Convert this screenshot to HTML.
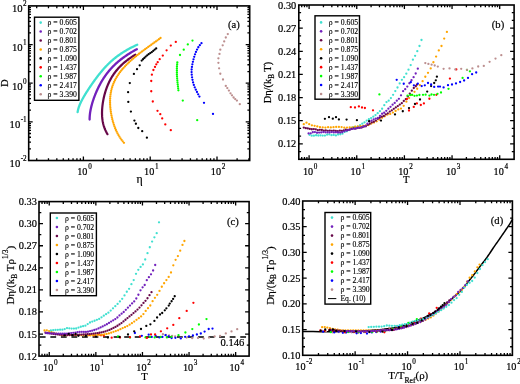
<!DOCTYPE html>
<html><head><meta charset="utf-8"><style>
html,body{margin:0;padding:0;background:#fff;}
svg{display:block;font-family:'Liberation Serif','Times New Roman',serif;}
text{stroke:#000;stroke-width:0.2px;}
</style></head><body>
<svg width="520" height="384" viewBox="0 0 520 384">
<rect width="520" height="384" fill="#fff"/>
<path d="M77.62 112.10 L77.76 111.25 L77.93 110.39 L78.13 109.54 L78.36 108.69 L78.61 107.83 L78.90 106.98 L79.20 106.13 L79.53 105.27 L79.88 104.42 L80.25 103.57 L80.64 102.72 L81.05 101.86 L81.47 101.01 L81.90 100.16 L82.35 99.30 L82.82 98.45 L83.29 97.60 L83.78 96.74 L84.28 95.89 L84.79 95.04 L85.30 94.18 L85.83 93.33 L86.36 92.48 L86.90 91.62 L87.45 90.77 L88.00 89.92 L88.56 89.06 L89.12 88.21 L89.69 87.36 L90.27 86.51 L90.85 85.65 L91.44 84.80 L92.03 83.95 L92.63 83.09 L93.23 82.24 L93.84 81.39 L94.45 80.53 L95.07 79.68 L95.70 78.83 L96.33 77.97 L96.97 77.12 L97.62 76.27 L98.28 75.41 L98.95 74.56 L99.62 73.71 L100.31 72.85 L101.01 72.00 L101.72 71.15 L102.44 70.29 L103.18 69.44 L103.93 68.59 L104.70 67.74 L105.49 66.88 L106.29 66.03 L107.12 65.18 L107.96 64.32 L108.83 63.47 L109.73 62.62 L110.65 61.76 L111.59 60.91 L112.57 60.06 L113.57 59.20 L114.61 58.35 L115.68 57.50 L116.79 56.64 L117.93 55.79 L119.12 54.94 L120.34 54.08 L121.62 53.23 L122.93 52.38 L124.30 51.53 L125.71 50.67 L127.18 49.82 L128.70 48.97 L130.28 48.11 L131.92 47.26 L133.63 46.41 L135.39 45.55 L137.23 44.70" stroke="#40e0d0" stroke-width="2.3" fill="none" stroke-linecap="round" stroke-linejoin="round" />
<path d="M89.62 119.60 L89.62 118.71 L89.64 117.82 L89.68 116.93 L89.74 116.04 L89.82 115.14 L89.91 114.25 L90.02 113.36 L90.14 112.47 L90.28 111.58 L90.44 110.69 L90.60 109.80 L90.79 108.91 L90.98 108.02 L91.19 107.12 L91.40 106.23 L91.63 105.34 L91.88 104.45 L92.13 103.56 L92.39 102.67 L92.66 101.78 L92.95 100.89 L93.24 99.99 L93.54 99.10 L93.86 98.21 L94.18 97.32 L94.51 96.43 L94.85 95.54 L95.20 94.65 L95.56 93.76 L95.93 92.87 L96.31 91.97 L96.70 91.08 L97.10 90.19 L97.51 89.30 L97.93 88.41 L98.37 87.52 L98.81 86.63 L99.26 85.74 L99.73 84.85 L100.21 83.95 L100.70 83.06 L101.20 82.17 L101.72 81.28 L102.26 80.39 L102.81 79.50 L103.37 78.61 L103.95 77.72 L104.55 76.83 L105.16 75.93 L105.79 75.04 L106.45 74.15 L107.12 73.26 L107.81 72.37 L108.53 71.48 L109.27 70.59 L110.03 69.70 L110.82 68.81 L111.63 67.91 L112.47 67.02 L113.34 66.13 L114.23 65.24 L115.16 64.35 L116.12 63.46 L117.11 62.57 L118.13 61.68 L119.19 60.78 L120.29 59.89 L121.43 59.00 L122.60 58.11 L123.82 57.22 L125.07 56.33 L126.38 55.44 L127.72 54.55 L129.12 53.66 L130.56 52.76 L132.05 51.87 L133.60 50.98 L135.19 50.09 L136.85 49.20" stroke="#7221bc" stroke-width="2.3" fill="none" stroke-linecap="round" stroke-linejoin="round" />
<path d="M107.50 134.20 L106.71 132.85 L106.00 131.50 L105.36 130.15 L104.79 128.80 L104.29 127.45 L103.84 126.11 L103.46 124.76 L103.12 123.41 L102.84 122.06 L102.60 120.71 L102.40 119.36 L102.25 118.01 L102.14 116.66 L102.07 115.31 L102.03 113.96 L102.02 112.61 L102.05 111.26 L102.10 109.92 L102.19 108.57 L102.30 107.22 L102.44 105.87 L102.60 104.52 L102.79 103.17 L103.00 101.82 L103.24 100.47 L103.50 99.12 L103.78 97.77 L104.09 96.42 L104.43 95.07 L104.79 93.73 L105.17 92.38 L105.59 91.03 L106.03 89.68 L106.50 88.33 L107.00 86.98 L107.54 85.63 L108.11 84.28 L108.71 82.93 L109.36 81.58 L110.04 80.23 L110.77 78.88 L111.55 77.54 L112.38 76.19 L113.25 74.84 L114.19 73.49 L115.18 72.14 L116.24 70.79 L117.36 69.44 L118.56 68.09 L119.83 66.74 L121.17 65.39 L122.61 64.04 L124.13 62.69 L125.74 61.35 L127.46 60.00 L129.27 58.65 L131.20 57.30 L133.24 55.95 L135.40 54.60" stroke="#670748" stroke-width="2.2" fill="none" stroke-linecap="round" stroke-linejoin="round" />
<circle cx="123.96" cy="142.80" r="1.15" fill="#ffa500"/>
<circle cx="122.73" cy="141.35" r="1.15" fill="#ffa500"/>
<circle cx="121.56" cy="139.85" r="1.15" fill="#ffa500"/>
<circle cx="120.45" cy="138.31" r="1.15" fill="#ffa500"/>
<circle cx="119.41" cy="136.72" r="1.15" fill="#ffa500"/>
<circle cx="118.44" cy="135.09" r="1.15" fill="#ffa500"/>
<circle cx="117.52" cy="133.42" r="1.15" fill="#ffa500"/>
<circle cx="116.67" cy="131.72" r="1.15" fill="#ffa500"/>
<circle cx="115.88" cy="129.99" r="1.15" fill="#ffa500"/>
<circle cx="115.15" cy="128.24" r="1.15" fill="#ffa500"/>
<circle cx="114.48" cy="126.46" r="1.15" fill="#ffa500"/>
<circle cx="113.86" cy="124.67" r="1.15" fill="#ffa500"/>
<circle cx="113.29" cy="122.86" r="1.15" fill="#ffa500"/>
<circle cx="112.77" cy="121.03" r="1.15" fill="#ffa500"/>
<circle cx="112.29" cy="119.19" r="1.15" fill="#ffa500"/>
<circle cx="111.86" cy="117.34" r="1.15" fill="#ffa500"/>
<circle cx="111.47" cy="115.48" r="1.15" fill="#ffa500"/>
<circle cx="111.13" cy="113.61" r="1.15" fill="#ffa500"/>
<circle cx="110.83" cy="111.74" r="1.15" fill="#ffa500"/>
<circle cx="110.57" cy="109.85" r="1.15" fill="#ffa500"/>
<circle cx="110.37" cy="107.96" r="1.15" fill="#ffa500"/>
<circle cx="110.21" cy="106.07" r="1.15" fill="#ffa500"/>
<circle cx="110.11" cy="104.17" r="1.15" fill="#ffa500"/>
<circle cx="110.07" cy="102.27" r="1.15" fill="#ffa500"/>
<circle cx="110.08" cy="100.37" r="1.15" fill="#ffa500"/>
<circle cx="110.15" cy="98.48" r="1.15" fill="#ffa500"/>
<circle cx="110.30" cy="96.58" r="1.15" fill="#ffa500"/>
<circle cx="110.51" cy="94.69" r="1.15" fill="#ffa500"/>
<circle cx="110.80" cy="92.81" r="1.15" fill="#ffa500"/>
<circle cx="111.16" cy="90.95" r="1.15" fill="#ffa500"/>
<circle cx="111.60" cy="89.10" r="1.15" fill="#ffa500"/>
<circle cx="112.12" cy="87.27" r="1.15" fill="#ffa500"/>
<circle cx="112.72" cy="85.47" r="1.15" fill="#ffa500"/>
<circle cx="113.39" cy="83.69" r="1.15" fill="#ffa500"/>
<circle cx="114.14" cy="81.95" r="1.15" fill="#ffa500"/>
<circle cx="114.96" cy="80.24" r="1.15" fill="#ffa500"/>
<circle cx="115.85" cy="78.56" r="1.15" fill="#ffa500"/>
<circle cx="116.80" cy="76.91" r="1.15" fill="#ffa500"/>
<circle cx="117.82" cy="75.31" r="1.15" fill="#ffa500"/>
<circle cx="118.89" cy="73.74" r="1.15" fill="#ffa500"/>
<circle cx="120.01" cy="72.20" r="1.15" fill="#ffa500"/>
<circle cx="121.17" cy="70.70" r="1.15" fill="#ffa500"/>
<circle cx="122.38" cy="69.24" r="1.15" fill="#ffa500"/>
<circle cx="123.63" cy="67.81" r="1.15" fill="#ffa500"/>
<circle cx="124.92" cy="66.40" r="1.15" fill="#ffa500"/>
<circle cx="126.23" cy="65.04" r="1.15" fill="#ffa500"/>
<circle cx="127.58" cy="63.69" r="1.15" fill="#ffa500"/>
<circle cx="128.95" cy="62.38" r="1.15" fill="#ffa500"/>
<circle cx="130.34" cy="61.09" r="1.15" fill="#ffa500"/>
<circle cx="131.76" cy="59.82" r="1.15" fill="#ffa500"/>
<circle cx="133.19" cy="58.57" r="1.15" fill="#ffa500"/>
<circle cx="134.65" cy="57.35" r="1.15" fill="#ffa500"/>
<circle cx="136.11" cy="56.14" r="1.15" fill="#ffa500"/>
<circle cx="137.59" cy="54.95" r="1.15" fill="#ffa500"/>
<circle cx="139.09" cy="53.77" r="1.15" fill="#ffa500"/>
<circle cx="140.59" cy="52.61" r="1.15" fill="#ffa500"/>
<circle cx="142.10" cy="51.46" r="1.15" fill="#ffa500"/>
<circle cx="143.62" cy="50.32" r="1.15" fill="#ffa500"/>
<circle cx="145.15" cy="49.19" r="1.15" fill="#ffa500"/>
<circle cx="146.68" cy="48.07" r="1.15" fill="#ffa500"/>
<circle cx="148.22" cy="46.95" r="1.15" fill="#ffa500"/>
<circle cx="149.76" cy="45.84" r="1.15" fill="#ffa500"/>
<circle cx="151.30" cy="44.73" r="1.15" fill="#ffa500"/>
<circle cx="152.84" cy="43.62" r="1.15" fill="#ffa500"/>
<circle cx="154.38" cy="42.51" r="1.15" fill="#ffa500"/>
<circle cx="155.92" cy="41.39" r="1.15" fill="#ffa500"/>
<circle cx="157.46" cy="40.28" r="1.15" fill="#ffa500"/>
<circle cx="158.99" cy="39.15" r="1.15" fill="#ffa500"/>
<circle cx="160.52" cy="38.02" r="1.15" fill="#ffa500"/>
<circle cx="146.90" cy="137.70" r="1.15" fill="#000"/>
<circle cx="142.20" cy="131.20" r="1.15" fill="#000"/>
<circle cx="138.30" cy="128.00" r="1.15" fill="#000"/>
<circle cx="135.90" cy="123.75" r="1.15" fill="#000"/>
<circle cx="134.40" cy="120.60" r="1.15" fill="#000"/>
<circle cx="130.90" cy="111.60" r="1.15" fill="#000"/>
<circle cx="128.30" cy="101.90" r="1.15" fill="#000"/>
<circle cx="128.10" cy="92.20" r="1.15" fill="#000"/>
<circle cx="129.80" cy="83.10" r="1.15" fill="#000"/>
<circle cx="133.90" cy="73.90" r="1.15" fill="#000"/>
<circle cx="137.00" cy="69.20" r="1.15" fill="#000"/>
<circle cx="139.70" cy="65.30" r="1.15" fill="#000"/>
<circle cx="141.70" cy="60.60" r="1.15" fill="#000"/>
<circle cx="143.04" cy="59.26" r="1.15" fill="#000"/>
<circle cx="144.39" cy="57.91" r="1.15" fill="#000"/>
<circle cx="145.74" cy="56.58" r="1.15" fill="#000"/>
<circle cx="147.21" cy="55.37" r="1.15" fill="#000"/>
<circle cx="148.68" cy="54.18" r="1.15" fill="#000"/>
<circle cx="150.26" cy="53.11" r="1.15" fill="#000"/>
<circle cx="151.83" cy="52.05" r="1.15" fill="#000"/>
<circle cx="153.29" cy="50.83" r="1.15" fill="#000"/>
<circle cx="154.74" cy="49.61" r="1.15" fill="#000"/>
<circle cx="156.20" cy="48.39" r="1.15" fill="#000"/>
<circle cx="170.80" cy="130.20" r="1.15" fill="#ff0000"/>
<circle cx="165.30" cy="124.40" r="1.15" fill="#ff0000"/>
<circle cx="162.20" cy="118.40" r="1.15" fill="#ff0000"/>
<circle cx="160.30" cy="114.20" r="1.15" fill="#ff0000"/>
<circle cx="157.50" cy="110.80" r="1.15" fill="#ff0000"/>
<circle cx="152.80" cy="101.50" r="1.15" fill="#ff0000"/>
<circle cx="151.25" cy="91.25" r="1.15" fill="#ff0000"/>
<circle cx="151.25" cy="81.00" r="1.15" fill="#ff0000"/>
<circle cx="151.90" cy="74.70" r="1.15" fill="#ff0000"/>
<circle cx="153.40" cy="70.00" r="1.15" fill="#ff0000"/>
<circle cx="155.00" cy="66.90" r="1.15" fill="#ff0000"/>
<circle cx="156.30" cy="64.30" r="1.15" fill="#ff0000"/>
<circle cx="157.70" cy="62.20" r="1.15" fill="#ff0000"/>
<circle cx="159.70" cy="59.20" r="1.15" fill="#ff0000"/>
<circle cx="162.80" cy="55.60" r="1.15" fill="#ff0000"/>
<circle cx="166.60" cy="50.30" r="1.15" fill="#ff0000"/>
<circle cx="170.80" cy="45.60" r="1.15" fill="#ff0000"/>
<circle cx="175.80" cy="41.90" r="1.15" fill="#ff0000"/>
<circle cx="197.20" cy="120.20" r="1.15" fill="#00ff00"/>
<circle cx="182.80" cy="100.60" r="1.15" fill="#00ff00"/>
<circle cx="180.00" cy="55.00" r="1.15" fill="#00ff00"/>
<circle cx="183.75" cy="49.70" r="1.15" fill="#00ff00"/>
<circle cx="187.80" cy="44.40" r="1.15" fill="#00ff00"/>
<circle cx="192.50" cy="40.60" r="1.15" fill="#00ff00"/>
<circle cx="178.40" cy="90.30" r="1.15" fill="#00ff00"/>
<circle cx="178.17" cy="88.31" r="1.15" fill="#00ff00"/>
<circle cx="177.94" cy="86.33" r="1.15" fill="#00ff00"/>
<circle cx="177.71" cy="84.34" r="1.15" fill="#00ff00"/>
<circle cx="177.49" cy="82.35" r="1.15" fill="#00ff00"/>
<circle cx="177.33" cy="80.36" r="1.15" fill="#00ff00"/>
<circle cx="177.17" cy="78.36" r="1.15" fill="#00ff00"/>
<circle cx="177.01" cy="76.37" r="1.15" fill="#00ff00"/>
<circle cx="176.90" cy="74.38" r="1.15" fill="#00ff00"/>
<circle cx="176.90" cy="72.38" r="1.15" fill="#00ff00"/>
<circle cx="176.90" cy="70.38" r="1.15" fill="#00ff00"/>
<circle cx="176.90" cy="68.38" r="1.15" fill="#00ff00"/>
<circle cx="176.95" cy="66.38" r="1.15" fill="#00ff00"/>
<circle cx="177.14" cy="64.39" r="1.15" fill="#00ff00"/>
<circle cx="177.33" cy="62.40" r="1.15" fill="#00ff00"/>
<circle cx="213.00" cy="113.90" r="1.15" fill="#0000ff"/>
<circle cx="204.00" cy="102.80" r="1.15" fill="#0000ff"/>
<circle cx="199.40" cy="96.60" r="1.15" fill="#0000ff"/>
<circle cx="198.18" cy="94.30" r="1.15" fill="#0000ff"/>
<circle cx="196.98" cy="92.00" r="1.15" fill="#0000ff"/>
<circle cx="195.81" cy="89.67" r="1.15" fill="#0000ff"/>
<circle cx="194.74" cy="87.30" r="1.15" fill="#0000ff"/>
<circle cx="193.82" cy="84.88" r="1.15" fill="#0000ff"/>
<circle cx="193.07" cy="82.39" r="1.15" fill="#0000ff"/>
<circle cx="192.50" cy="79.85" r="1.15" fill="#0000ff"/>
<circle cx="192.05" cy="77.29" r="1.15" fill="#0000ff"/>
<circle cx="191.74" cy="74.71" r="1.15" fill="#0000ff"/>
<circle cx="191.59" cy="72.11" r="1.15" fill="#0000ff"/>
<circle cx="191.64" cy="69.52" r="1.15" fill="#0000ff"/>
<circle cx="191.93" cy="66.93" r="1.15" fill="#0000ff"/>
<circle cx="192.38" cy="64.37" r="1.15" fill="#0000ff"/>
<circle cx="192.90" cy="61.82" r="1.15" fill="#0000ff"/>
<circle cx="193.50" cy="59.30" r="1.15" fill="#0000ff"/>
<circle cx="194.22" cy="56.80" r="1.15" fill="#0000ff"/>
<circle cx="195.04" cy="54.33" r="1.15" fill="#0000ff"/>
<circle cx="195.98" cy="51.91" r="1.15" fill="#0000ff"/>
<circle cx="197.05" cy="49.54" r="1.15" fill="#0000ff"/>
<circle cx="198.32" cy="47.27" r="1.15" fill="#0000ff"/>
<circle cx="199.82" cy="45.15" r="1.15" fill="#0000ff"/>
<circle cx="201.47" cy="43.14" r="1.15" fill="#0000ff"/>
<circle cx="227.80" cy="34.10" r="1.15" fill="#bc8f8f"/>
<circle cx="225.80" cy="37.50" r="1.15" fill="#bc8f8f"/>
<circle cx="224.20" cy="41.40" r="1.15" fill="#bc8f8f"/>
<circle cx="222.70" cy="45.30" r="1.15" fill="#bc8f8f"/>
<circle cx="220.30" cy="49.70" r="1.15" fill="#bc8f8f"/>
<circle cx="219.50" cy="53.90" r="1.15" fill="#bc8f8f"/>
<circle cx="218.40" cy="58.30" r="1.15" fill="#bc8f8f"/>
<circle cx="218.40" cy="62.80" r="1.15" fill="#bc8f8f"/>
<circle cx="219.10" cy="68.30" r="1.15" fill="#bc8f8f"/>
<circle cx="220.30" cy="73.75" r="1.15" fill="#bc8f8f"/>
<circle cx="223.00" cy="79.50" r="1.15" fill="#bc8f8f"/>
<circle cx="225.80" cy="85.90" r="1.15" fill="#bc8f8f"/>
<circle cx="227.30" cy="88.10" r="1.15" fill="#bc8f8f"/>
<circle cx="228.90" cy="90.60" r="1.15" fill="#bc8f8f"/>
<circle cx="230.50" cy="93.30" r="1.15" fill="#bc8f8f"/>
<circle cx="232.00" cy="95.30" r="1.15" fill="#bc8f8f"/>
<circle cx="233.60" cy="97.50" r="1.15" fill="#bc8f8f"/>
<circle cx="235.20" cy="99.10" r="1.15" fill="#bc8f8f"/>
<circle cx="236.90" cy="100.60" r="1.15" fill="#bc8f8f"/>
<circle cx="239.80" cy="104.20" r="1.15" fill="#bc8f8f"/>
<path d="M36.71 160.50L36.71 158.20M36.71 5.90L36.71 8.20M48.47 160.50L48.47 158.20M48.47 5.90L48.47 8.20M56.82 160.50L56.82 158.20M56.82 5.90L56.82 8.20M63.29 160.50L63.29 158.20M63.29 5.90L63.29 8.20M68.58 160.50L68.58 158.20M68.58 5.90L68.58 8.20M73.05 160.50L73.05 158.20M73.05 5.90L73.05 8.20M76.93 160.50L76.93 158.20M76.93 5.90L76.93 8.20M80.34 160.50L80.34 158.20M80.34 5.90L80.34 8.20M83.40 160.50L83.40 156.50M83.40 5.90L83.40 9.90M103.51 160.50L103.51 158.20M103.51 5.90L103.51 8.20M115.27 160.50L115.27 158.20M115.27 5.90L115.27 8.20M123.62 160.50L123.62 158.20M123.62 5.90L123.62 8.20M130.09 160.50L130.09 158.20M130.09 5.90L130.09 8.20M135.38 160.50L135.38 158.20M135.38 5.90L135.38 8.20M139.85 160.50L139.85 158.20M139.85 5.90L139.85 8.20M143.73 160.50L143.73 158.20M143.73 5.90L143.73 8.20M147.14 160.50L147.14 158.20M147.14 5.90L147.14 8.20M150.20 160.50L150.20 156.50M150.20 5.90L150.20 9.90M170.31 160.50L170.31 158.20M170.31 5.90L170.31 8.20M182.07 160.50L182.07 158.20M182.07 5.90L182.07 8.20M190.42 160.50L190.42 158.20M190.42 5.90L190.42 8.20M196.89 160.50L196.89 158.20M196.89 5.90L196.89 8.20M202.18 160.50L202.18 158.20M202.18 5.90L202.18 8.20M206.65 160.50L206.65 158.20M206.65 5.90L206.65 8.20M210.53 160.50L210.53 158.20M210.53 5.90L210.53 8.20M213.94 160.50L213.94 158.20M213.94 5.90L213.94 8.20M217.00 160.50L217.00 156.50M217.00 5.90L217.00 9.90M237.11 160.50L237.11 158.20M237.11 5.90L237.11 8.20M248.87 160.50L248.87 158.20M248.87 5.90L248.87 8.20" stroke="#000" stroke-width="1.3" fill="none"/>
<path d="M28.70 148.87L31.00 148.87M249.70 148.87L247.40 148.87M28.70 142.06L31.00 142.06M249.70 142.06L247.40 142.06M28.70 137.23L31.00 137.23M249.70 137.23L247.40 137.23M28.70 133.48L31.00 133.48M249.70 133.48L247.40 133.48M28.70 130.42L31.00 130.42M249.70 130.42L247.40 130.42M28.70 127.84L31.00 127.84M249.70 127.84L247.40 127.84M28.70 125.60L31.00 125.60M249.70 125.60L247.40 125.60M28.70 123.62L31.00 123.62M249.70 123.62L247.40 123.62M28.70 121.85L32.70 121.85M249.70 121.85L245.70 121.85M28.70 110.22L31.00 110.22M249.70 110.22L247.40 110.22M28.70 103.41L31.00 103.41M249.70 103.41L247.40 103.41M28.70 98.58L31.00 98.58M249.70 98.58L247.40 98.58M28.70 94.83L31.00 94.83M249.70 94.83L247.40 94.83M28.70 91.77L31.00 91.77M249.70 91.77L247.40 91.77M28.70 89.19L31.00 89.19M249.70 89.19L247.40 89.19M28.70 86.95L31.00 86.95M249.70 86.95L247.40 86.95M28.70 84.97L31.00 84.97M249.70 84.97L247.40 84.97M28.70 83.20L32.70 83.20M249.70 83.20L245.70 83.20M28.70 71.57L31.00 71.57M249.70 71.57L247.40 71.57M28.70 64.76L31.00 64.76M249.70 64.76L247.40 64.76M28.70 59.93L31.00 59.93M249.70 59.93L247.40 59.93M28.70 56.18L31.00 56.18M249.70 56.18L247.40 56.18M28.70 53.12L31.00 53.12M249.70 53.12L247.40 53.12M28.70 50.54L31.00 50.54M249.70 50.54L247.40 50.54M28.70 48.30L31.00 48.30M249.70 48.30L247.40 48.30M28.70 46.32L31.00 46.32M249.70 46.32L247.40 46.32M28.70 44.55L32.70 44.55M249.70 44.55L245.70 44.55M28.70 32.92L31.00 32.92M249.70 32.92L247.40 32.92M28.70 26.11L31.00 26.11M249.70 26.11L247.40 26.11M28.70 21.28L31.00 21.28M249.70 21.28L247.40 21.28M28.70 17.53L31.00 17.53M249.70 17.53L247.40 17.53M28.70 14.47L31.00 14.47M249.70 14.47L247.40 14.47M28.70 11.89L31.00 11.89M249.70 11.89L247.40 11.89M28.70 9.65L31.00 9.65M249.70 9.65L247.40 9.65M28.70 7.67L31.00 7.67M249.70 7.67L247.40 7.67" stroke="#000" stroke-width="1.3" fill="none"/>
<rect x="28.7" y="5.9" width="221.0" height="154.6" fill="none" stroke="#000" stroke-width="1.6"/>
<rect x="34.5" y="17.2" width="44.400000000000006" height="83.1" fill="#fff" stroke="#000" stroke-width="1.4"/>
<circle cx="40.7" cy="22.60" r="1.3" fill="#40e0d0"/>
<text x="47.60" y="25.30" font-size="7.7" text-anchor="start" style="stroke-width:0.12px">ρ = 0.605</text>
<circle cx="40.7" cy="31.55" r="1.3" fill="#7221bc"/>
<text x="47.60" y="34.25" font-size="7.7" text-anchor="start" style="stroke-width:0.12px">ρ = 0.702</text>
<circle cx="40.7" cy="40.50" r="1.3" fill="#670748"/>
<text x="47.60" y="43.20" font-size="7.7" text-anchor="start" style="stroke-width:0.12px">ρ = 0.801</text>
<circle cx="40.7" cy="49.45" r="1.3" fill="#ffa500"/>
<text x="47.60" y="52.15" font-size="7.7" text-anchor="start" style="stroke-width:0.12px">ρ = 0.875</text>
<circle cx="40.7" cy="58.40" r="1.3" fill="#000000"/>
<text x="47.60" y="61.10" font-size="7.7" text-anchor="start" style="stroke-width:0.12px">ρ = 1.090</text>
<circle cx="40.7" cy="67.35" r="1.3" fill="#ff0000"/>
<text x="47.60" y="70.05" font-size="7.7" text-anchor="start" style="stroke-width:0.12px">ρ = 1.437</text>
<circle cx="40.7" cy="76.30" r="1.3" fill="#00ff00"/>
<text x="47.60" y="79.00" font-size="7.7" text-anchor="start" style="stroke-width:0.12px">ρ = 1.987</text>
<circle cx="40.7" cy="85.25" r="1.3" fill="#0000ff"/>
<text x="47.60" y="87.95" font-size="7.7" text-anchor="start" style="stroke-width:0.12px">ρ = 2.417</text>
<circle cx="40.7" cy="94.20" r="1.3" fill="#bc8f8f"/>
<text x="47.60" y="96.90" font-size="7.7" text-anchor="start" style="stroke-width:0.12px">ρ = 3.390</text>
<text x="23.10" y="6.30" font-size="7.2" text-anchor="start" >2</text>
<text x="22.60" y="12.30" font-size="10.7" text-anchor="end" >10</text>
<text x="23.10" y="44.95" font-size="7.2" text-anchor="start" >1</text>
<text x="22.60" y="50.95" font-size="10.7" text-anchor="end" >10</text>
<text x="23.10" y="83.60" font-size="7.2" text-anchor="start" >0</text>
<text x="22.60" y="89.60" font-size="10.7" text-anchor="end" >10</text>
<text x="20.72" y="122.25" font-size="7.2" text-anchor="start" >-1</text>
<text x="20.22" y="128.25" font-size="10.7" text-anchor="end" >10</text>
<text x="20.72" y="160.90" font-size="7.2" text-anchor="start" >-2</text>
<text x="20.22" y="166.90" font-size="10.7" text-anchor="end" >10</text>
<text x="77.25" y="174.70" font-size="10.2" text-anchor="start" >10</text>
<text x="88.15" y="168.70" font-size="7.2" text-anchor="start" >0</text>
<text x="144.05" y="174.70" font-size="10.2" text-anchor="start" >10</text>
<text x="154.95" y="168.70" font-size="7.2" text-anchor="start" >1</text>
<text x="210.85" y="174.70" font-size="10.2" text-anchor="start" >10</text>
<text x="221.75" y="168.70" font-size="7.2" text-anchor="start" >2</text>
<text x="139.60" y="182.80" font-size="11.8" text-anchor="middle" >η</text>
<text transform="translate(7.6,83.2) rotate(-90)" font-size="10.6" text-anchor="middle">D</text>
<text x="233.80" y="27.80" font-size="10.6" text-anchor="middle" >(a)</text>
<circle cx="309.50" cy="134.83" r="1.15" fill="#40e0d0"/>
<circle cx="311.70" cy="135.65" r="1.15" fill="#40e0d0"/>
<circle cx="313.90" cy="135.67" r="1.15" fill="#40e0d0"/>
<circle cx="316.10" cy="135.26" r="1.15" fill="#40e0d0"/>
<circle cx="318.30" cy="135.50" r="1.15" fill="#40e0d0"/>
<circle cx="320.50" cy="135.45" r="1.15" fill="#40e0d0"/>
<circle cx="322.70" cy="135.60" r="1.15" fill="#40e0d0"/>
<circle cx="324.90" cy="135.56" r="1.15" fill="#40e0d0"/>
<circle cx="327.10" cy="134.69" r="1.15" fill="#40e0d0"/>
<circle cx="329.30" cy="134.45" r="1.15" fill="#40e0d0"/>
<circle cx="331.50" cy="135.19" r="1.15" fill="#40e0d0"/>
<circle cx="333.70" cy="134.97" r="1.15" fill="#40e0d0"/>
<circle cx="335.90" cy="135.47" r="1.15" fill="#40e0d0"/>
<circle cx="338.10" cy="134.48" r="1.15" fill="#40e0d0"/>
<circle cx="340.30" cy="134.27" r="1.15" fill="#40e0d0"/>
<circle cx="342.50" cy="133.68" r="1.15" fill="#40e0d0"/>
<circle cx="344.70" cy="131.91" r="1.15" fill="#40e0d0"/>
<circle cx="346.90" cy="131.34" r="1.15" fill="#40e0d0"/>
<circle cx="349.10" cy="130.01" r="1.15" fill="#40e0d0"/>
<circle cx="351.30" cy="127.93" r="1.15" fill="#40e0d0"/>
<circle cx="353.50" cy="127.16" r="1.15" fill="#40e0d0"/>
<circle cx="355.70" cy="126.91" r="1.15" fill="#40e0d0"/>
<circle cx="357.90" cy="126.54" r="1.15" fill="#40e0d0"/>
<circle cx="360.10" cy="125.22" r="1.15" fill="#40e0d0"/>
<circle cx="362.30" cy="123.70" r="1.15" fill="#40e0d0"/>
<circle cx="364.50" cy="122.43" r="1.15" fill="#40e0d0"/>
<circle cx="366.70" cy="120.55" r="1.15" fill="#40e0d0"/>
<circle cx="368.90" cy="119.26" r="1.15" fill="#40e0d0"/>
<circle cx="371.10" cy="118.04" r="1.15" fill="#40e0d0"/>
<circle cx="373.30" cy="116.71" r="1.15" fill="#40e0d0"/>
<circle cx="375.50" cy="115.05" r="1.15" fill="#40e0d0"/>
<circle cx="377.70" cy="113.20" r="1.15" fill="#40e0d0"/>
<circle cx="379.90" cy="111.21" r="1.15" fill="#40e0d0"/>
<circle cx="382.10" cy="108.76" r="1.15" fill="#40e0d0"/>
<circle cx="384.30" cy="105.20" r="1.15" fill="#40e0d0"/>
<circle cx="386.50" cy="102.04" r="1.15" fill="#40e0d0"/>
<circle cx="388.70" cy="100.70" r="1.15" fill="#40e0d0"/>
<circle cx="390.90" cy="98.06" r="1.15" fill="#40e0d0"/>
<circle cx="393.10" cy="94.87" r="1.15" fill="#40e0d0"/>
<circle cx="395.30" cy="91.09" r="1.15" fill="#40e0d0"/>
<circle cx="397.50" cy="87.49" r="1.15" fill="#40e0d0"/>
<circle cx="399.70" cy="83.45" r="1.15" fill="#40e0d0"/>
<circle cx="401.90" cy="79.85" r="1.15" fill="#40e0d0"/>
<circle cx="404.10" cy="77.16" r="1.15" fill="#40e0d0"/>
<circle cx="406.30" cy="73.64" r="1.15" fill="#40e0d0"/>
<circle cx="408.50" cy="69.69" r="1.15" fill="#40e0d0"/>
<circle cx="410.70" cy="65.07" r="1.15" fill="#40e0d0"/>
<circle cx="412.90" cy="59.72" r="1.15" fill="#40e0d0"/>
<circle cx="415.10" cy="55.78" r="1.15" fill="#40e0d0"/>
<circle cx="417.30" cy="51.22" r="1.15" fill="#40e0d0"/>
<circle cx="419.50" cy="45.99" r="1.15" fill="#40e0d0"/>
<circle cx="421.50" cy="40.00" r="1.15" fill="#40e0d0"/>
<circle cx="303.80" cy="124.19" r="1.15" fill="#ffa500"/>
<circle cx="306.50" cy="122.69" r="1.15" fill="#ffa500"/>
<circle cx="309.20" cy="124.16" r="1.15" fill="#ffa500"/>
<circle cx="311.90" cy="125.29" r="1.15" fill="#ffa500"/>
<circle cx="314.60" cy="125.80" r="1.15" fill="#ffa500"/>
<circle cx="317.30" cy="126.47" r="1.15" fill="#ffa500"/>
<circle cx="320.00" cy="127.20" r="1.15" fill="#ffa500"/>
<circle cx="322.70" cy="127.36" r="1.15" fill="#ffa500"/>
<circle cx="325.40" cy="127.53" r="1.15" fill="#ffa500"/>
<circle cx="328.10" cy="127.13" r="1.15" fill="#ffa500"/>
<circle cx="330.80" cy="127.43" r="1.15" fill="#ffa500"/>
<circle cx="333.50" cy="127.13" r="1.15" fill="#ffa500"/>
<circle cx="336.20" cy="126.96" r="1.15" fill="#ffa500"/>
<circle cx="338.90" cy="126.95" r="1.15" fill="#ffa500"/>
<circle cx="341.60" cy="127.12" r="1.15" fill="#ffa500"/>
<circle cx="344.30" cy="127.72" r="1.15" fill="#ffa500"/>
<circle cx="347.00" cy="127.57" r="1.15" fill="#ffa500"/>
<circle cx="349.70" cy="127.48" r="1.15" fill="#ffa500"/>
<circle cx="352.40" cy="127.34" r="1.15" fill="#ffa500"/>
<circle cx="355.10" cy="126.64" r="1.15" fill="#ffa500"/>
<circle cx="357.80" cy="126.48" r="1.15" fill="#ffa500"/>
<circle cx="360.50" cy="126.25" r="1.15" fill="#ffa500"/>
<circle cx="363.20" cy="125.86" r="1.15" fill="#ffa500"/>
<circle cx="365.90" cy="125.49" r="1.15" fill="#ffa500"/>
<circle cx="368.60" cy="125.04" r="1.15" fill="#ffa500"/>
<circle cx="371.30" cy="123.52" r="1.15" fill="#ffa500"/>
<circle cx="374.00" cy="122.58" r="1.15" fill="#ffa500"/>
<circle cx="376.70" cy="121.29" r="1.15" fill="#ffa500"/>
<circle cx="379.40" cy="119.64" r="1.15" fill="#ffa500"/>
<circle cx="382.10" cy="117.75" r="1.15" fill="#ffa500"/>
<circle cx="384.80" cy="116.36" r="1.15" fill="#ffa500"/>
<circle cx="387.50" cy="114.62" r="1.15" fill="#ffa500"/>
<circle cx="390.20" cy="113.95" r="1.15" fill="#ffa500"/>
<circle cx="392.90" cy="112.54" r="1.15" fill="#ffa500"/>
<circle cx="395.60" cy="110.94" r="1.15" fill="#ffa500"/>
<circle cx="398.30" cy="109.39" r="1.15" fill="#ffa500"/>
<circle cx="401.00" cy="108.53" r="1.15" fill="#ffa500"/>
<circle cx="403.70" cy="105.86" r="1.15" fill="#ffa500"/>
<circle cx="406.40" cy="101.63" r="1.15" fill="#ffa500"/>
<circle cx="409.10" cy="98.04" r="1.15" fill="#ffa500"/>
<circle cx="411.80" cy="94.83" r="1.15" fill="#ffa500"/>
<circle cx="414.50" cy="91.82" r="1.15" fill="#ffa500"/>
<circle cx="417.20" cy="88.74" r="1.15" fill="#ffa500"/>
<circle cx="419.90" cy="85.21" r="1.15" fill="#ffa500"/>
<circle cx="422.60" cy="81.22" r="1.15" fill="#ffa500"/>
<circle cx="425.30" cy="76.75" r="1.15" fill="#ffa500"/>
<circle cx="428.00" cy="72.84" r="1.15" fill="#ffa500"/>
<circle cx="430.70" cy="68.42" r="1.15" fill="#ffa500"/>
<circle cx="433.40" cy="62.25" r="1.15" fill="#ffa500"/>
<circle cx="436.10" cy="56.56" r="1.15" fill="#ffa500"/>
<circle cx="438.80" cy="50.38" r="1.15" fill="#ffa500"/>
<circle cx="441.50" cy="46.00" r="1.15" fill="#ffa500"/>
<circle cx="444.20" cy="38.53" r="1.15" fill="#ffa500"/>
<circle cx="446.90" cy="31.95" r="1.15" fill="#ffa500"/>
<circle cx="303.80" cy="127.59" r="1.15" fill="#670748"/>
<circle cx="305.80" cy="128.19" r="1.15" fill="#670748"/>
<circle cx="307.80" cy="128.41" r="1.15" fill="#670748"/>
<circle cx="309.80" cy="128.96" r="1.15" fill="#670748"/>
<circle cx="311.80" cy="129.27" r="1.15" fill="#670748"/>
<circle cx="313.80" cy="129.07" r="1.15" fill="#670748"/>
<circle cx="315.80" cy="129.29" r="1.15" fill="#670748"/>
<circle cx="317.80" cy="130.15" r="1.15" fill="#670748"/>
<circle cx="319.80" cy="129.85" r="1.15" fill="#670748"/>
<circle cx="321.80" cy="129.99" r="1.15" fill="#670748"/>
<circle cx="323.80" cy="130.73" r="1.15" fill="#670748"/>
<circle cx="325.80" cy="130.41" r="1.15" fill="#670748"/>
<circle cx="327.80" cy="130.80" r="1.15" fill="#670748"/>
<circle cx="329.80" cy="130.61" r="1.15" fill="#670748"/>
<circle cx="331.80" cy="130.83" r="1.15" fill="#670748"/>
<circle cx="333.80" cy="130.54" r="1.15" fill="#670748"/>
<circle cx="335.80" cy="130.99" r="1.15" fill="#670748"/>
<circle cx="337.80" cy="131.08" r="1.15" fill="#670748"/>
<circle cx="339.80" cy="130.71" r="1.15" fill="#670748"/>
<circle cx="341.80" cy="130.79" r="1.15" fill="#670748"/>
<circle cx="343.80" cy="130.47" r="1.15" fill="#670748"/>
<circle cx="345.80" cy="129.73" r="1.15" fill="#670748"/>
<circle cx="347.80" cy="130.03" r="1.15" fill="#670748"/>
<circle cx="349.80" cy="129.53" r="1.15" fill="#670748"/>
<circle cx="351.80" cy="128.91" r="1.15" fill="#670748"/>
<circle cx="353.80" cy="128.31" r="1.15" fill="#670748"/>
<circle cx="355.80" cy="128.62" r="1.15" fill="#670748"/>
<circle cx="357.80" cy="127.95" r="1.15" fill="#670748"/>
<circle cx="359.80" cy="127.80" r="1.15" fill="#670748"/>
<circle cx="361.80" cy="127.41" r="1.15" fill="#670748"/>
<circle cx="363.80" cy="126.67" r="1.15" fill="#670748"/>
<circle cx="365.80" cy="126.23" r="1.15" fill="#670748"/>
<circle cx="367.80" cy="124.84" r="1.15" fill="#670748"/>
<circle cx="369.80" cy="123.87" r="1.15" fill="#670748"/>
<circle cx="371.80" cy="122.46" r="1.15" fill="#670748"/>
<circle cx="373.80" cy="121.75" r="1.15" fill="#670748"/>
<circle cx="375.80" cy="120.59" r="1.15" fill="#670748"/>
<circle cx="377.80" cy="118.86" r="1.15" fill="#670748"/>
<circle cx="379.80" cy="117.77" r="1.15" fill="#670748"/>
<circle cx="381.80" cy="116.63" r="1.15" fill="#670748"/>
<circle cx="383.80" cy="116.02" r="1.15" fill="#670748"/>
<circle cx="385.80" cy="114.39" r="1.15" fill="#670748"/>
<circle cx="387.80" cy="113.28" r="1.15" fill="#670748"/>
<circle cx="389.80" cy="111.61" r="1.15" fill="#670748"/>
<circle cx="391.80" cy="110.36" r="1.15" fill="#670748"/>
<circle cx="393.80" cy="108.85" r="1.15" fill="#670748"/>
<circle cx="395.80" cy="107.38" r="1.15" fill="#670748"/>
<circle cx="397.80" cy="106.06" r="1.15" fill="#670748"/>
<circle cx="399.80" cy="104.56" r="1.15" fill="#670748"/>
<circle cx="401.80" cy="103.17" r="1.15" fill="#670748"/>
<circle cx="403.80" cy="101.00" r="1.15" fill="#670748"/>
<circle cx="405.80" cy="99.19" r="1.15" fill="#670748"/>
<circle cx="407.80" cy="96.39" r="1.15" fill="#670748"/>
<circle cx="409.80" cy="93.70" r="1.15" fill="#670748"/>
<circle cx="411.80" cy="90.71" r="1.15" fill="#670748"/>
<circle cx="413.80" cy="88.00" r="1.15" fill="#670748"/>
<circle cx="415.80" cy="86.25" r="1.15" fill="#670748"/>
<circle cx="416.90" cy="84.70" r="1.15" fill="#670748"/>
<circle cx="308.60" cy="133.46" r="1.15" fill="#7221bc"/>
<circle cx="310.70" cy="133.29" r="1.15" fill="#7221bc"/>
<circle cx="312.80" cy="132.24" r="1.15" fill="#7221bc"/>
<circle cx="314.90" cy="132.11" r="1.15" fill="#7221bc"/>
<circle cx="317.00" cy="132.75" r="1.15" fill="#7221bc"/>
<circle cx="319.10" cy="132.55" r="1.15" fill="#7221bc"/>
<circle cx="321.20" cy="132.38" r="1.15" fill="#7221bc"/>
<circle cx="323.30" cy="132.03" r="1.15" fill="#7221bc"/>
<circle cx="325.40" cy="132.36" r="1.15" fill="#7221bc"/>
<circle cx="327.50" cy="132.38" r="1.15" fill="#7221bc"/>
<circle cx="329.60" cy="132.39" r="1.15" fill="#7221bc"/>
<circle cx="331.70" cy="132.04" r="1.15" fill="#7221bc"/>
<circle cx="333.80" cy="132.38" r="1.15" fill="#7221bc"/>
<circle cx="335.90" cy="132.36" r="1.15" fill="#7221bc"/>
<circle cx="338.00" cy="132.48" r="1.15" fill="#7221bc"/>
<circle cx="340.10" cy="132.55" r="1.15" fill="#7221bc"/>
<circle cx="342.20" cy="132.23" r="1.15" fill="#7221bc"/>
<circle cx="344.30" cy="131.29" r="1.15" fill="#7221bc"/>
<circle cx="346.40" cy="130.65" r="1.15" fill="#7221bc"/>
<circle cx="348.50" cy="129.96" r="1.15" fill="#7221bc"/>
<circle cx="350.60" cy="129.28" r="1.15" fill="#7221bc"/>
<circle cx="352.70" cy="128.83" r="1.15" fill="#7221bc"/>
<circle cx="354.80" cy="128.82" r="1.15" fill="#7221bc"/>
<circle cx="356.90" cy="128.22" r="1.15" fill="#7221bc"/>
<circle cx="359.00" cy="127.71" r="1.15" fill="#7221bc"/>
<circle cx="361.10" cy="127.60" r="1.15" fill="#7221bc"/>
<circle cx="363.20" cy="126.62" r="1.15" fill="#7221bc"/>
<circle cx="365.30" cy="125.97" r="1.15" fill="#7221bc"/>
<circle cx="367.40" cy="123.72" r="1.15" fill="#7221bc"/>
<circle cx="369.50" cy="121.58" r="1.15" fill="#7221bc"/>
<circle cx="371.60" cy="120.58" r="1.15" fill="#7221bc"/>
<circle cx="373.70" cy="119.29" r="1.15" fill="#7221bc"/>
<circle cx="375.80" cy="118.56" r="1.15" fill="#7221bc"/>
<circle cx="377.90" cy="117.92" r="1.15" fill="#7221bc"/>
<circle cx="380.00" cy="115.91" r="1.15" fill="#7221bc"/>
<circle cx="382.10" cy="113.74" r="1.15" fill="#7221bc"/>
<circle cx="384.20" cy="112.77" r="1.15" fill="#7221bc"/>
<circle cx="386.30" cy="110.85" r="1.15" fill="#7221bc"/>
<circle cx="388.40" cy="108.71" r="1.15" fill="#7221bc"/>
<circle cx="390.50" cy="106.80" r="1.15" fill="#7221bc"/>
<circle cx="392.60" cy="104.68" r="1.15" fill="#7221bc"/>
<circle cx="394.70" cy="102.97" r="1.15" fill="#7221bc"/>
<circle cx="396.80" cy="100.72" r="1.15" fill="#7221bc"/>
<circle cx="398.90" cy="98.83" r="1.15" fill="#7221bc"/>
<circle cx="401.00" cy="95.36" r="1.15" fill="#7221bc"/>
<circle cx="403.10" cy="91.14" r="1.15" fill="#7221bc"/>
<circle cx="405.20" cy="89.20" r="1.15" fill="#7221bc"/>
<circle cx="407.30" cy="86.54" r="1.15" fill="#7221bc"/>
<circle cx="409.40" cy="83.24" r="1.15" fill="#7221bc"/>
<circle cx="411.50" cy="80.26" r="1.15" fill="#7221bc"/>
<circle cx="413.60" cy="77.13" r="1.15" fill="#7221bc"/>
<circle cx="415.70" cy="73.52" r="1.15" fill="#7221bc"/>
<circle cx="417.80" cy="68.70" r="1.15" fill="#7221bc"/>
<circle cx="324.90" cy="118.80" r="1.15" fill="#000"/>
<circle cx="329.00" cy="117.20" r="1.15" fill="#000"/>
<circle cx="332.80" cy="118.70" r="1.15" fill="#000"/>
<circle cx="336.00" cy="117.20" r="1.15" fill="#000"/>
<circle cx="338.90" cy="119.40" r="1.15" fill="#000"/>
<circle cx="346.60" cy="119.60" r="1.15" fill="#000"/>
<circle cx="356.90" cy="120.20" r="1.15" fill="#000"/>
<circle cx="369.10" cy="121.25" r="1.15" fill="#000"/>
<circle cx="381.00" cy="120.60" r="1.15" fill="#000"/>
<circle cx="395.00" cy="114.40" r="1.15" fill="#000"/>
<circle cx="402.80" cy="111.25" r="1.15" fill="#000"/>
<circle cx="409.00" cy="108.10" r="1.15" fill="#000"/>
<circle cx="415.00" cy="104.00" r="1.15" fill="#000"/>
<circle cx="420.00" cy="99.50" r="1.15" fill="#000"/>
<circle cx="427.20" cy="91.60" r="1.15" fill="#000"/>
<circle cx="431.10" cy="86.10" r="1.15" fill="#000"/>
<circle cx="434.20" cy="83.00" r="1.15" fill="#000"/>
<circle cx="435.80" cy="80.30" r="1.15" fill="#000"/>
<circle cx="436.90" cy="76.70" r="1.15" fill="#000"/>
<circle cx="350.80" cy="107.20" r="1.15" fill="#ff0000"/>
<circle cx="355.00" cy="107.50" r="1.15" fill="#ff0000"/>
<circle cx="358.90" cy="106.40" r="1.15" fill="#ff0000"/>
<circle cx="362.00" cy="107.50" r="1.15" fill="#ff0000"/>
<circle cx="364.90" cy="108.00" r="1.15" fill="#ff0000"/>
<circle cx="373.00" cy="110.30" r="1.15" fill="#ff0000"/>
<circle cx="409.00" cy="110.50" r="1.15" fill="#ff0000"/>
<circle cx="413.75" cy="106.90" r="1.15" fill="#ff0000"/>
<circle cx="416.90" cy="103.40" r="1.15" fill="#ff0000"/>
<circle cx="420.80" cy="105.00" r="1.15" fill="#ff0000"/>
<circle cx="423.90" cy="103.40" r="1.15" fill="#ff0000"/>
<circle cx="429.40" cy="98.75" r="1.15" fill="#ff0000"/>
<circle cx="436.40" cy="94.80" r="1.15" fill="#ff0000"/>
<circle cx="449.90" cy="78.60" r="1.15" fill="#ff0000"/>
<circle cx="456.30" cy="69.40" r="1.15" fill="#ff0000"/>
<circle cx="406.90" cy="99.00" r="1.15" fill="#ff0000"/>
<circle cx="379.40" cy="94.40" r="1.15" fill="#00ff00"/>
<circle cx="407.50" cy="95.60" r="1.15" fill="#00ff00"/>
<circle cx="410.20" cy="95.00" r="1.15" fill="#00ff00"/>
<circle cx="412.20" cy="94.80" r="1.15" fill="#00ff00"/>
<circle cx="414.50" cy="95.80" r="1.15" fill="#00ff00"/>
<circle cx="416.90" cy="95.60" r="1.15" fill="#00ff00"/>
<circle cx="419.40" cy="95.00" r="1.15" fill="#00ff00"/>
<circle cx="423.00" cy="94.80" r="1.15" fill="#00ff00"/>
<circle cx="425.60" cy="94.70" r="1.15" fill="#00ff00"/>
<circle cx="429.40" cy="95.60" r="1.15" fill="#00ff00"/>
<circle cx="431.50" cy="94.50" r="1.15" fill="#00ff00"/>
<circle cx="434.00" cy="94.80" r="1.15" fill="#00ff00"/>
<circle cx="437.50" cy="93.80" r="1.15" fill="#00ff00"/>
<circle cx="441.00" cy="92.50" r="1.15" fill="#00ff00"/>
<circle cx="448.50" cy="88.80" r="1.15" fill="#00ff00"/>
<circle cx="462.60" cy="77.90" r="1.15" fill="#00ff00"/>
<circle cx="467.00" cy="69.90" r="1.15" fill="#00ff00"/>
<circle cx="469.90" cy="71.30" r="1.15" fill="#00ff00"/>
<circle cx="396.70" cy="79.80" r="1.15" fill="#0000ff"/>
<circle cx="403.75" cy="83.75" r="1.15" fill="#0000ff"/>
<circle cx="410.80" cy="82.20" r="1.15" fill="#0000ff"/>
<circle cx="413.90" cy="85.30" r="1.15" fill="#0000ff"/>
<circle cx="417.80" cy="83.75" r="1.15" fill="#0000ff"/>
<circle cx="421.70" cy="86.10" r="1.15" fill="#0000ff"/>
<circle cx="424.80" cy="85.30" r="1.15" fill="#0000ff"/>
<circle cx="428.00" cy="83.00" r="1.15" fill="#0000ff"/>
<circle cx="431.10" cy="84.50" r="1.15" fill="#0000ff"/>
<circle cx="434.20" cy="86.90" r="1.15" fill="#0000ff"/>
<circle cx="438.10" cy="86.60" r="1.15" fill="#0000ff"/>
<circle cx="440.00" cy="86.60" r="1.15" fill="#0000ff"/>
<circle cx="443.60" cy="87.40" r="1.15" fill="#0000ff"/>
<circle cx="448.00" cy="85.20" r="1.15" fill="#0000ff"/>
<circle cx="452.00" cy="84.50" r="1.15" fill="#0000ff"/>
<circle cx="456.00" cy="83.40" r="1.15" fill="#0000ff"/>
<circle cx="460.10" cy="82.00" r="1.15" fill="#0000ff"/>
<circle cx="464.10" cy="80.50" r="1.15" fill="#0000ff"/>
<circle cx="468.00" cy="77.90" r="1.15" fill="#0000ff"/>
<circle cx="472.10" cy="74.20" r="1.15" fill="#0000ff"/>
<circle cx="476.20" cy="72.50" r="1.15" fill="#0000ff"/>
<circle cx="425.30" cy="63.10" r="1.15" fill="#bc8f8f"/>
<circle cx="428.40" cy="63.90" r="1.15" fill="#bc8f8f"/>
<circle cx="431.60" cy="64.70" r="1.15" fill="#bc8f8f"/>
<circle cx="434.70" cy="65.50" r="1.15" fill="#bc8f8f"/>
<circle cx="437.80" cy="66.60" r="1.15" fill="#bc8f8f"/>
<circle cx="443.60" cy="68.80" r="1.15" fill="#bc8f8f"/>
<circle cx="449.50" cy="68.40" r="1.15" fill="#bc8f8f"/>
<circle cx="455.30" cy="69.40" r="1.15" fill="#bc8f8f"/>
<circle cx="461.20" cy="68.80" r="1.15" fill="#bc8f8f"/>
<circle cx="467.00" cy="69.90" r="1.15" fill="#bc8f8f"/>
<circle cx="472.40" cy="68.40" r="1.15" fill="#bc8f8f"/>
<circle cx="478.20" cy="66.50" r="1.15" fill="#bc8f8f"/>
<circle cx="483.80" cy="65.90" r="1.15" fill="#bc8f8f"/>
<circle cx="489.60" cy="61.80" r="1.15" fill="#bc8f8f"/>
<circle cx="495.50" cy="58.60" r="1.15" fill="#bc8f8f"/>
<circle cx="501.30" cy="55.20" r="1.15" fill="#bc8f8f"/>
<path d="M301.72 159.30L301.72 157.00M301.72 5.00L301.72 7.30M304.48 159.30L304.48 157.00M304.48 5.00L304.48 7.30M306.92 159.30L306.92 157.00M306.92 5.00L306.92 7.30M309.10 159.30L309.10 155.30M309.10 5.00L309.10 9.00M323.44 159.30L323.44 157.00M323.44 5.00L323.44 7.30M331.83 159.30L331.83 157.00M331.83 5.00L331.83 7.30M337.79 159.30L337.79 157.00M337.79 5.00L337.79 7.30M342.41 159.30L342.41 157.00M342.41 5.00L342.41 7.30M346.18 159.30L346.18 157.00M346.18 5.00L346.18 7.30M349.37 159.30L349.37 157.00M349.37 5.00L349.37 7.30M352.13 159.30L352.13 157.00M352.13 5.00L352.13 7.30M354.57 159.30L354.57 157.00M354.57 5.00L354.57 7.30M356.75 159.30L356.75 155.30M356.75 5.00L356.75 9.00M371.09 159.30L371.09 157.00M371.09 5.00L371.09 7.30M379.48 159.30L379.48 157.00M379.48 5.00L379.48 7.30M385.44 159.30L385.44 157.00M385.44 5.00L385.44 7.30M390.06 159.30L390.06 157.00M390.06 5.00L390.06 7.30M393.83 159.30L393.83 157.00M393.83 5.00L393.83 7.30M397.02 159.30L397.02 157.00M397.02 5.00L397.02 7.30M399.78 159.30L399.78 157.00M399.78 5.00L399.78 7.30M402.22 159.30L402.22 157.00M402.22 5.00L402.22 7.30M404.40 159.30L404.40 155.30M404.40 5.00L404.40 9.00M418.74 159.30L418.74 157.00M418.74 5.00L418.74 7.30M427.13 159.30L427.13 157.00M427.13 5.00L427.13 7.30M433.09 159.30L433.09 157.00M433.09 5.00L433.09 7.30M437.71 159.30L437.71 157.00M437.71 5.00L437.71 7.30M441.48 159.30L441.48 157.00M441.48 5.00L441.48 7.30M444.67 159.30L444.67 157.00M444.67 5.00L444.67 7.30M447.43 159.30L447.43 157.00M447.43 5.00L447.43 7.30M449.87 159.30L449.87 157.00M449.87 5.00L449.87 7.30M452.05 159.30L452.05 155.30M452.05 5.00L452.05 9.00M466.39 159.30L466.39 157.00M466.39 5.00L466.39 7.30M474.78 159.30L474.78 157.00M474.78 5.00L474.78 7.30M480.74 159.30L480.74 157.00M480.74 5.00L480.74 7.30M485.36 159.30L485.36 157.00M485.36 5.00L485.36 7.30M489.13 159.30L489.13 157.00M489.13 5.00L489.13 7.30M492.32 159.30L492.32 157.00M492.32 5.00L492.32 7.30M495.08 159.30L495.08 157.00M495.08 5.00L495.08 7.30M497.52 159.30L497.52 157.00M497.52 5.00L497.52 7.30M499.70 159.30L499.70 155.30M499.70 5.00L499.70 9.00" stroke="#000" stroke-width="1.3" fill="none"/>
<path d="M298.80 151.59L301.10 151.59M514.10 151.59L511.80 151.59M298.80 143.87L302.80 143.87M514.10 143.87L510.10 143.87M298.80 136.16L301.10 136.16M514.10 136.16L511.80 136.16M298.80 128.44L301.10 128.44M514.10 128.44L511.80 128.44M298.80 120.72L302.80 120.72M514.10 120.72L510.10 120.72M298.80 113.01L301.10 113.01M514.10 113.01L511.80 113.01M298.80 105.30L301.10 105.30M514.10 105.30L511.80 105.30M298.80 97.58L302.80 97.58M514.10 97.58L510.10 97.58M298.80 89.86L301.10 89.86M514.10 89.86L511.80 89.86M298.80 82.15L301.10 82.15M514.10 82.15L511.80 82.15M298.80 74.44L302.80 74.44M514.10 74.44L510.10 74.44M298.80 66.72L301.10 66.72M514.10 66.72L511.80 66.72M298.80 59.01L301.10 59.01M514.10 59.01L511.80 59.01M298.80 51.29L302.80 51.29M514.10 51.29L510.10 51.29M298.80 43.57L301.10 43.57M514.10 43.57L511.80 43.57M298.80 35.86L301.10 35.86M514.10 35.86L511.80 35.86M298.80 28.14L302.80 28.14M514.10 28.14L510.10 28.14M298.80 20.43L301.10 20.43M514.10 20.43L511.80 20.43M298.80 12.71L301.10 12.71M514.10 12.71L511.80 12.71" stroke="#000" stroke-width="1.3" fill="none"/>
<rect x="298.8" y="5.0" width="215.3" height="154.3" fill="none" stroke="#000" stroke-width="1.6"/>
<rect x="315" y="15.8" width="44.5" height="83.4" fill="#fff" stroke="#000" stroke-width="1.4"/>
<circle cx="321.1" cy="22.40" r="1.3" fill="#40e0d0"/>
<text x="328.80" y="25.10" font-size="7.7" text-anchor="start" style="stroke-width:0.12px">ρ = 0.605</text>
<circle cx="321.1" cy="31.35" r="1.3" fill="#7221bc"/>
<text x="328.80" y="34.05" font-size="7.7" text-anchor="start" style="stroke-width:0.12px">ρ = 0.702</text>
<circle cx="321.1" cy="40.30" r="1.3" fill="#670748"/>
<text x="328.80" y="43.00" font-size="7.7" text-anchor="start" style="stroke-width:0.12px">ρ = 0.801</text>
<circle cx="321.1" cy="49.25" r="1.3" fill="#ffa500"/>
<text x="328.80" y="51.95" font-size="7.7" text-anchor="start" style="stroke-width:0.12px">ρ = 0.875</text>
<circle cx="321.1" cy="58.20" r="1.3" fill="#000000"/>
<text x="328.80" y="60.90" font-size="7.7" text-anchor="start" style="stroke-width:0.12px">ρ = 1.090</text>
<circle cx="321.1" cy="67.15" r="1.3" fill="#ff0000"/>
<text x="328.80" y="69.85" font-size="7.7" text-anchor="start" style="stroke-width:0.12px">ρ = 1.437</text>
<circle cx="321.1" cy="76.10" r="1.3" fill="#00ff00"/>
<text x="328.80" y="78.80" font-size="7.7" text-anchor="start" style="stroke-width:0.12px">ρ = 1.987</text>
<circle cx="321.1" cy="85.05" r="1.3" fill="#0000ff"/>
<text x="328.80" y="87.75" font-size="7.7" text-anchor="start" style="stroke-width:0.12px">ρ = 2.417</text>
<circle cx="321.1" cy="94.00" r="1.3" fill="#bc8f8f"/>
<text x="328.80" y="96.70" font-size="7.7" text-anchor="start" style="stroke-width:0.12px">ρ = 3.390</text>
<text x="296.30" y="147.37" font-size="10.4" text-anchor="end" >0.12</text>
<text x="296.30" y="124.22" font-size="10.4" text-anchor="end" >0.15</text>
<text x="296.30" y="101.08" font-size="10.4" text-anchor="end" >0.18</text>
<text x="296.30" y="77.94" font-size="10.4" text-anchor="end" >0.21</text>
<text x="296.30" y="54.79" font-size="10.4" text-anchor="end" >0.24</text>
<text x="296.30" y="31.64" font-size="10.4" text-anchor="end" >0.27</text>
<text x="296.30" y="8.50" font-size="10.4" text-anchor="end" >0.30</text>
<text x="302.95" y="174.50" font-size="10.2" text-anchor="start" >10</text>
<text x="313.85" y="168.50" font-size="7.2" text-anchor="start" >0</text>
<text x="350.60" y="174.50" font-size="10.2" text-anchor="start" >10</text>
<text x="361.50" y="168.50" font-size="7.2" text-anchor="start" >1</text>
<text x="398.25" y="174.50" font-size="10.2" text-anchor="start" >10</text>
<text x="409.15" y="168.50" font-size="7.2" text-anchor="start" >2</text>
<text x="445.90" y="174.50" font-size="10.2" text-anchor="start" >10</text>
<text x="456.80" y="168.50" font-size="7.2" text-anchor="start" >3</text>
<text x="493.55" y="174.50" font-size="10.2" text-anchor="start" >10</text>
<text x="504.45" y="168.50" font-size="7.2" text-anchor="start" >4</text>
<text x="406.20" y="183.20" font-size="10.6" text-anchor="middle" >T</text>
<text transform="translate(271.0,82.6) rotate(-90)" font-size="10.4" text-anchor="middle">Dη/(k<tspan font-size="7.2" dy="3.0">B</tspan><tspan dy="-3.0"> T)</tspan></text>
<text x="498.00" y="28.00" font-size="10.6" text-anchor="middle" >(b)</text>
<path d="M39.8 336.97H248.29999999999998" stroke="#000" stroke-width="1.5" stroke-dasharray="5.8 4.75" fill="none"/>
<circle cx="162.90" cy="334.20" r="1.15" fill="#bc8f8f"/>
<circle cx="165.90" cy="334.80" r="1.15" fill="#bc8f8f"/>
<circle cx="169.10" cy="335.30" r="1.15" fill="#bc8f8f"/>
<circle cx="172.10" cy="335.80" r="1.15" fill="#bc8f8f"/>
<circle cx="175.10" cy="336.50" r="1.15" fill="#bc8f8f"/>
<circle cx="180.80" cy="337.90" r="1.15" fill="#bc8f8f"/>
<circle cx="186.60" cy="337.60" r="1.15" fill="#bc8f8f"/>
<circle cx="192.20" cy="338.20" r="1.15" fill="#bc8f8f"/>
<circle cx="198.00" cy="337.90" r="1.15" fill="#bc8f8f"/>
<circle cx="203.70" cy="338.60" r="1.15" fill="#bc8f8f"/>
<circle cx="209.00" cy="337.60" r="1.15" fill="#bc8f8f"/>
<circle cx="214.60" cy="336.40" r="1.15" fill="#bc8f8f"/>
<circle cx="220.10" cy="336.00" r="1.15" fill="#bc8f8f"/>
<circle cx="225.80" cy="333.40" r="1.15" fill="#bc8f8f"/>
<circle cx="231.50" cy="331.40" r="1.15" fill="#bc8f8f"/>
<circle cx="237.20" cy="329.20" r="1.15" fill="#bc8f8f"/>
<circle cx="134.90" cy="333.00" r="1.15" fill="#0000ff"/>
<circle cx="141.80" cy="335.80" r="1.15" fill="#0000ff"/>
<circle cx="148.70" cy="334.70" r="1.15" fill="#0000ff"/>
<circle cx="151.70" cy="336.90" r="1.15" fill="#0000ff"/>
<circle cx="155.60" cy="335.80" r="1.15" fill="#0000ff"/>
<circle cx="159.40" cy="337.40" r="1.15" fill="#0000ff"/>
<circle cx="162.40" cy="336.90" r="1.15" fill="#0000ff"/>
<circle cx="165.50" cy="335.20" r="1.15" fill="#0000ff"/>
<circle cx="168.60" cy="336.30" r="1.15" fill="#0000ff"/>
<circle cx="171.60" cy="338.00" r="1.15" fill="#0000ff"/>
<circle cx="175.40" cy="337.80" r="1.15" fill="#0000ff"/>
<circle cx="180.80" cy="338.40" r="1.15" fill="#0000ff"/>
<circle cx="185.10" cy="336.80" r="1.15" fill="#0000ff"/>
<circle cx="189.00" cy="336.30" r="1.15" fill="#0000ff"/>
<circle cx="192.90" cy="335.50" r="1.15" fill="#0000ff"/>
<circle cx="196.90" cy="334.50" r="1.15" fill="#0000ff"/>
<circle cx="200.80" cy="333.50" r="1.15" fill="#0000ff"/>
<circle cx="204.60" cy="331.60" r="1.15" fill="#0000ff"/>
<circle cx="208.70" cy="329.00" r="1.15" fill="#0000ff"/>
<circle cx="212.50" cy="328.60" r="1.15" fill="#0000ff"/>
<circle cx="118.00" cy="336.50" r="1.15" fill="#00ff00"/>
<circle cx="130.00" cy="337.60" r="1.15" fill="#00ff00"/>
<circle cx="145.50" cy="337.40" r="1.15" fill="#00ff00"/>
<circle cx="150.10" cy="336.80" r="1.15" fill="#00ff00"/>
<circle cx="154.70" cy="337.40" r="1.15" fill="#00ff00"/>
<circle cx="160.60" cy="336.80" r="1.15" fill="#00ff00"/>
<circle cx="166.90" cy="337.40" r="1.15" fill="#00ff00"/>
<circle cx="171.40" cy="336.80" r="1.15" fill="#00ff00"/>
<circle cx="178.50" cy="335.20" r="1.15" fill="#00ff00"/>
<circle cx="185.40" cy="332.50" r="1.15" fill="#00ff00"/>
<circle cx="192.30" cy="329.10" r="1.15" fill="#00ff00"/>
<circle cx="198.90" cy="324.50" r="1.15" fill="#00ff00"/>
<circle cx="206.50" cy="319.10" r="1.15" fill="#00ff00"/>
<circle cx="90.00" cy="335.10" r="1.15" fill="#ff0000"/>
<circle cx="94.10" cy="335.30" r="1.15" fill="#ff0000"/>
<circle cx="98.00" cy="334.40" r="1.15" fill="#ff0000"/>
<circle cx="101.00" cy="335.30" r="1.15" fill="#ff0000"/>
<circle cx="103.80" cy="335.70" r="1.15" fill="#ff0000"/>
<circle cx="111.70" cy="337.70" r="1.15" fill="#ff0000"/>
<circle cx="120.00" cy="337.50" r="1.15" fill="#ff0000"/>
<circle cx="130.00" cy="337.20" r="1.15" fill="#ff0000"/>
<circle cx="140.00" cy="336.50" r="1.15" fill="#ff0000"/>
<circle cx="146.90" cy="337.90" r="1.15" fill="#ff0000"/>
<circle cx="151.00" cy="334.40" r="1.15" fill="#ff0000"/>
<circle cx="155.10" cy="334.40" r="1.15" fill="#ff0000"/>
<circle cx="160.90" cy="331.30" r="1.15" fill="#ff0000"/>
<circle cx="167.20" cy="328.30" r="1.15" fill="#ff0000"/>
<circle cx="173.30" cy="324.90" r="1.15" fill="#ff0000"/>
<circle cx="179.30" cy="318.20" r="1.15" fill="#ff0000"/>
<circle cx="186.70" cy="310.90" r="1.15" fill="#ff0000"/>
<circle cx="193.40" cy="302.80" r="1.15" fill="#ff0000"/>
<circle cx="44.50" cy="330.50" r="1.15" fill="#ffa500"/>
<circle cx="46.80" cy="330.32" r="1.15" fill="#ffa500"/>
<circle cx="49.10" cy="331.08" r="1.15" fill="#ffa500"/>
<circle cx="51.40" cy="331.97" r="1.15" fill="#ffa500"/>
<circle cx="53.70" cy="332.86" r="1.15" fill="#ffa500"/>
<circle cx="56.00" cy="333.69" r="1.15" fill="#ffa500"/>
<circle cx="58.30" cy="334.19" r="1.15" fill="#ffa500"/>
<circle cx="60.60" cy="334.69" r="1.15" fill="#ffa500"/>
<circle cx="62.90" cy="335.19" r="1.15" fill="#ffa500"/>
<circle cx="65.20" cy="335.23" r="1.15" fill="#ffa500"/>
<circle cx="67.50" cy="335.14" r="1.15" fill="#ffa500"/>
<circle cx="69.80" cy="335.06" r="1.15" fill="#ffa500"/>
<circle cx="72.10" cy="335.02" r="1.15" fill="#ffa500"/>
<circle cx="74.40" cy="335.07" r="1.15" fill="#ffa500"/>
<circle cx="76.70" cy="335.12" r="1.15" fill="#ffa500"/>
<circle cx="79.00" cy="335.18" r="1.15" fill="#ffa500"/>
<circle cx="81.30" cy="335.21" r="1.15" fill="#ffa500"/>
<circle cx="83.60" cy="335.24" r="1.15" fill="#ffa500"/>
<circle cx="85.90" cy="335.26" r="1.15" fill="#ffa500"/>
<circle cx="88.20" cy="335.28" r="1.15" fill="#ffa500"/>
<circle cx="90.50" cy="335.28" r="1.15" fill="#ffa500"/>
<circle cx="92.80" cy="335.19" r="1.15" fill="#ffa500"/>
<circle cx="95.10" cy="335.10" r="1.15" fill="#ffa500"/>
<circle cx="97.40" cy="335.00" r="1.15" fill="#ffa500"/>
<circle cx="99.70" cy="334.91" r="1.15" fill="#ffa500"/>
<circle cx="102.00" cy="334.82" r="1.15" fill="#ffa500"/>
<circle cx="104.30" cy="334.43" r="1.15" fill="#ffa500"/>
<circle cx="106.60" cy="333.95" r="1.15" fill="#ffa500"/>
<circle cx="108.90" cy="333.45" r="1.15" fill="#ffa500"/>
<circle cx="111.20" cy="332.66" r="1.15" fill="#ffa500"/>
<circle cx="113.50" cy="331.87" r="1.15" fill="#ffa500"/>
<circle cx="115.80" cy="331.09" r="1.15" fill="#ffa500"/>
<circle cx="118.10" cy="330.30" r="1.15" fill="#ffa500"/>
<circle cx="120.40" cy="329.15" r="1.15" fill="#ffa500"/>
<circle cx="122.70" cy="328.07" r="1.15" fill="#ffa500"/>
<circle cx="125.00" cy="327.17" r="1.15" fill="#ffa500"/>
<circle cx="127.30" cy="326.04" r="1.15" fill="#ffa500"/>
<circle cx="129.60" cy="324.66" r="1.15" fill="#ffa500"/>
<circle cx="131.90" cy="323.15" r="1.15" fill="#ffa500"/>
<circle cx="134.20" cy="321.60" r="1.15" fill="#ffa500"/>
<circle cx="136.50" cy="319.86" r="1.15" fill="#ffa500"/>
<circle cx="138.80" cy="318.14" r="1.15" fill="#ffa500"/>
<circle cx="141.10" cy="316.47" r="1.15" fill="#ffa500"/>
<circle cx="143.40" cy="314.08" r="1.15" fill="#ffa500"/>
<circle cx="145.70" cy="310.91" r="1.15" fill="#ffa500"/>
<circle cx="148.00" cy="308.18" r="1.15" fill="#ffa500"/>
<circle cx="150.30" cy="305.52" r="1.15" fill="#ffa500"/>
<circle cx="152.60" cy="301.15" r="1.15" fill="#ffa500"/>
<circle cx="154.90" cy="297.86" r="1.15" fill="#ffa500"/>
<circle cx="157.20" cy="294.78" r="1.15" fill="#ffa500"/>
<circle cx="159.50" cy="290.97" r="1.15" fill="#ffa500"/>
<circle cx="161.80" cy="286.75" r="1.15" fill="#ffa500"/>
<circle cx="164.10" cy="283.26" r="1.15" fill="#ffa500"/>
<circle cx="166.40" cy="280.07" r="1.15" fill="#ffa500"/>
<circle cx="168.70" cy="276.93" r="1.15" fill="#ffa500"/>
<circle cx="171.00" cy="272.51" r="1.15" fill="#ffa500"/>
<circle cx="173.30" cy="265.30" r="1.15" fill="#ffa500"/>
<circle cx="175.60" cy="259.80" r="1.15" fill="#ffa500"/>
<circle cx="177.90" cy="256.08" r="1.15" fill="#ffa500"/>
<circle cx="180.20" cy="250.72" r="1.15" fill="#ffa500"/>
<circle cx="182.50" cy="244.94" r="1.15" fill="#ffa500"/>
<circle cx="184.40" cy="241.00" r="1.15" fill="#ffa500"/>
<circle cx="45.50" cy="332.70" r="1.15" fill="#670748"/>
<circle cx="47.50" cy="333.02" r="1.15" fill="#670748"/>
<circle cx="49.50" cy="333.33" r="1.15" fill="#670748"/>
<circle cx="51.50" cy="333.65" r="1.15" fill="#670748"/>
<circle cx="53.50" cy="333.97" r="1.15" fill="#670748"/>
<circle cx="55.50" cy="334.28" r="1.15" fill="#670748"/>
<circle cx="57.50" cy="334.47" r="1.15" fill="#670748"/>
<circle cx="59.50" cy="334.65" r="1.15" fill="#670748"/>
<circle cx="61.50" cy="334.83" r="1.15" fill="#670748"/>
<circle cx="63.50" cy="335.00" r="1.15" fill="#670748"/>
<circle cx="65.50" cy="335.00" r="1.15" fill="#670748"/>
<circle cx="67.50" cy="335.00" r="1.15" fill="#670748"/>
<circle cx="69.50" cy="335.00" r="1.15" fill="#670748"/>
<circle cx="71.50" cy="334.99" r="1.15" fill="#670748"/>
<circle cx="73.50" cy="334.93" r="1.15" fill="#670748"/>
<circle cx="75.50" cy="334.86" r="1.15" fill="#670748"/>
<circle cx="77.50" cy="334.80" r="1.15" fill="#670748"/>
<circle cx="79.50" cy="334.72" r="1.15" fill="#670748"/>
<circle cx="81.50" cy="334.61" r="1.15" fill="#670748"/>
<circle cx="83.50" cy="334.49" r="1.15" fill="#670748"/>
<circle cx="85.50" cy="334.38" r="1.15" fill="#670748"/>
<circle cx="87.50" cy="334.24" r="1.15" fill="#670748"/>
<circle cx="89.50" cy="334.03" r="1.15" fill="#670748"/>
<circle cx="91.50" cy="333.83" r="1.15" fill="#670748"/>
<circle cx="93.50" cy="333.62" r="1.15" fill="#670748"/>
<circle cx="95.50" cy="333.38" r="1.15" fill="#670748"/>
<circle cx="97.50" cy="333.07" r="1.15" fill="#670748"/>
<circle cx="99.50" cy="332.76" r="1.15" fill="#670748"/>
<circle cx="101.50" cy="332.45" r="1.15" fill="#670748"/>
<circle cx="103.50" cy="331.97" r="1.15" fill="#670748"/>
<circle cx="105.50" cy="331.30" r="1.15" fill="#670748"/>
<circle cx="107.50" cy="330.62" r="1.15" fill="#670748"/>
<circle cx="109.50" cy="329.89" r="1.15" fill="#670748"/>
<circle cx="111.50" cy="328.95" r="1.15" fill="#670748"/>
<circle cx="113.50" cy="327.90" r="1.15" fill="#670748"/>
<circle cx="115.50" cy="326.90" r="1.15" fill="#670748"/>
<circle cx="117.50" cy="325.77" r="1.15" fill="#670748"/>
<circle cx="119.50" cy="324.46" r="1.15" fill="#670748"/>
<circle cx="121.50" cy="323.03" r="1.15" fill="#670748"/>
<circle cx="123.50" cy="321.39" r="1.15" fill="#670748"/>
<circle cx="125.50" cy="319.74" r="1.15" fill="#670748"/>
<circle cx="127.50" cy="318.08" r="1.15" fill="#670748"/>
<circle cx="129.50" cy="316.43" r="1.15" fill="#670748"/>
<circle cx="131.50" cy="314.78" r="1.15" fill="#670748"/>
<circle cx="133.50" cy="313.09" r="1.15" fill="#670748"/>
<circle cx="135.50" cy="311.39" r="1.15" fill="#670748"/>
<circle cx="137.50" cy="309.53" r="1.15" fill="#670748"/>
<circle cx="139.50" cy="307.58" r="1.15" fill="#670748"/>
<circle cx="141.50" cy="305.35" r="1.15" fill="#670748"/>
<circle cx="143.50" cy="302.92" r="1.15" fill="#670748"/>
<circle cx="145.50" cy="300.83" r="1.15" fill="#670748"/>
<circle cx="147.50" cy="298.25" r="1.15" fill="#670748"/>
<circle cx="149.50" cy="295.16" r="1.15" fill="#670748"/>
<circle cx="151.50" cy="292.19" r="1.15" fill="#670748"/>
<circle cx="46.00" cy="333.20" r="1.15" fill="#7221bc"/>
<circle cx="48.10" cy="333.27" r="1.15" fill="#7221bc"/>
<circle cx="50.20" cy="333.34" r="1.15" fill="#7221bc"/>
<circle cx="52.30" cy="333.41" r="1.15" fill="#7221bc"/>
<circle cx="54.40" cy="333.48" r="1.15" fill="#7221bc"/>
<circle cx="56.50" cy="333.56" r="1.15" fill="#7221bc"/>
<circle cx="58.60" cy="333.65" r="1.15" fill="#7221bc"/>
<circle cx="60.70" cy="333.74" r="1.15" fill="#7221bc"/>
<circle cx="62.80" cy="333.76" r="1.15" fill="#7221bc"/>
<circle cx="64.90" cy="333.66" r="1.15" fill="#7221bc"/>
<circle cx="67.00" cy="333.55" r="1.15" fill="#7221bc"/>
<circle cx="69.10" cy="333.37" r="1.15" fill="#7221bc"/>
<circle cx="71.20" cy="333.11" r="1.15" fill="#7221bc"/>
<circle cx="73.30" cy="332.84" r="1.15" fill="#7221bc"/>
<circle cx="75.40" cy="332.55" r="1.15" fill="#7221bc"/>
<circle cx="77.50" cy="332.25" r="1.15" fill="#7221bc"/>
<circle cx="79.60" cy="331.95" r="1.15" fill="#7221bc"/>
<circle cx="81.70" cy="331.83" r="1.15" fill="#7221bc"/>
<circle cx="83.80" cy="331.90" r="1.15" fill="#7221bc"/>
<circle cx="85.90" cy="331.97" r="1.15" fill="#7221bc"/>
<circle cx="88.00" cy="331.72" r="1.15" fill="#7221bc"/>
<circle cx="90.10" cy="331.17" r="1.15" fill="#7221bc"/>
<circle cx="92.20" cy="330.63" r="1.15" fill="#7221bc"/>
<circle cx="94.30" cy="329.99" r="1.15" fill="#7221bc"/>
<circle cx="96.40" cy="329.28" r="1.15" fill="#7221bc"/>
<circle cx="98.50" cy="328.46" r="1.15" fill="#7221bc"/>
<circle cx="100.60" cy="327.43" r="1.15" fill="#7221bc"/>
<circle cx="102.70" cy="326.40" r="1.15" fill="#7221bc"/>
<circle cx="104.80" cy="325.33" r="1.15" fill="#7221bc"/>
<circle cx="106.90" cy="324.25" r="1.15" fill="#7221bc"/>
<circle cx="109.00" cy="322.92" r="1.15" fill="#7221bc"/>
<circle cx="111.10" cy="321.56" r="1.15" fill="#7221bc"/>
<circle cx="113.20" cy="320.32" r="1.15" fill="#7221bc"/>
<circle cx="115.30" cy="319.05" r="1.15" fill="#7221bc"/>
<circle cx="117.40" cy="317.50" r="1.15" fill="#7221bc"/>
<circle cx="119.50" cy="315.40" r="1.15" fill="#7221bc"/>
<circle cx="121.60" cy="313.65" r="1.15" fill="#7221bc"/>
<circle cx="123.70" cy="312.00" r="1.15" fill="#7221bc"/>
<circle cx="125.80" cy="309.84" r="1.15" fill="#7221bc"/>
<circle cx="127.90" cy="307.69" r="1.15" fill="#7221bc"/>
<circle cx="130.00" cy="305.53" r="1.15" fill="#7221bc"/>
<circle cx="132.10" cy="303.44" r="1.15" fill="#7221bc"/>
<circle cx="134.20" cy="301.40" r="1.15" fill="#7221bc"/>
<circle cx="136.30" cy="298.50" r="1.15" fill="#7221bc"/>
<circle cx="138.40" cy="294.76" r="1.15" fill="#7221bc"/>
<circle cx="140.50" cy="290.35" r="1.15" fill="#7221bc"/>
<circle cx="142.60" cy="287.33" r="1.15" fill="#7221bc"/>
<circle cx="144.70" cy="285.00" r="1.15" fill="#7221bc"/>
<circle cx="146.80" cy="280.20" r="1.15" fill="#7221bc"/>
<circle cx="148.90" cy="277.20" r="1.15" fill="#7221bc"/>
<circle cx="151.00" cy="274.35" r="1.15" fill="#7221bc"/>
<circle cx="153.10" cy="270.49" r="1.15" fill="#7221bc"/>
<circle cx="155.20" cy="264.99" r="1.15" fill="#7221bc"/>
<circle cx="50.90" cy="330.40" r="1.15" fill="#40e0d0"/>
<circle cx="53.20" cy="330.18" r="1.15" fill="#40e0d0"/>
<circle cx="55.50" cy="329.96" r="1.15" fill="#40e0d0"/>
<circle cx="57.80" cy="329.78" r="1.15" fill="#40e0d0"/>
<circle cx="60.10" cy="329.71" r="1.15" fill="#40e0d0"/>
<circle cx="62.40" cy="329.63" r="1.15" fill="#40e0d0"/>
<circle cx="64.70" cy="329.07" r="1.15" fill="#40e0d0"/>
<circle cx="67.00" cy="328.12" r="1.15" fill="#40e0d0"/>
<circle cx="69.30" cy="328.30" r="1.15" fill="#40e0d0"/>
<circle cx="71.60" cy="328.60" r="1.15" fill="#40e0d0"/>
<circle cx="73.90" cy="328.60" r="1.15" fill="#40e0d0"/>
<circle cx="76.20" cy="328.52" r="1.15" fill="#40e0d0"/>
<circle cx="78.50" cy="327.62" r="1.15" fill="#40e0d0"/>
<circle cx="80.80" cy="326.75" r="1.15" fill="#40e0d0"/>
<circle cx="83.10" cy="326.21" r="1.15" fill="#40e0d0"/>
<circle cx="85.40" cy="325.63" r="1.15" fill="#40e0d0"/>
<circle cx="87.70" cy="324.07" r="1.15" fill="#40e0d0"/>
<circle cx="90.00" cy="322.50" r="1.15" fill="#40e0d0"/>
<circle cx="92.30" cy="321.62" r="1.15" fill="#40e0d0"/>
<circle cx="94.60" cy="320.74" r="1.15" fill="#40e0d0"/>
<circle cx="96.90" cy="319.81" r="1.15" fill="#40e0d0"/>
<circle cx="99.20" cy="318.88" r="1.15" fill="#40e0d0"/>
<circle cx="101.50" cy="317.29" r="1.15" fill="#40e0d0"/>
<circle cx="103.80" cy="315.64" r="1.15" fill="#40e0d0"/>
<circle cx="106.10" cy="314.13" r="1.15" fill="#40e0d0"/>
<circle cx="108.40" cy="312.63" r="1.15" fill="#40e0d0"/>
<circle cx="110.70" cy="310.54" r="1.15" fill="#40e0d0"/>
<circle cx="113.00" cy="308.35" r="1.15" fill="#40e0d0"/>
<circle cx="115.30" cy="306.13" r="1.15" fill="#40e0d0"/>
<circle cx="117.60" cy="303.89" r="1.15" fill="#40e0d0"/>
<circle cx="119.90" cy="301.39" r="1.15" fill="#40e0d0"/>
<circle cx="122.20" cy="298.83" r="1.15" fill="#40e0d0"/>
<circle cx="124.50" cy="295.42" r="1.15" fill="#40e0d0"/>
<circle cx="126.80" cy="291.77" r="1.15" fill="#40e0d0"/>
<circle cx="129.10" cy="288.80" r="1.15" fill="#40e0d0"/>
<circle cx="131.40" cy="284.20" r="1.15" fill="#40e0d0"/>
<circle cx="133.70" cy="280.05" r="1.15" fill="#40e0d0"/>
<circle cx="136.00" cy="273.86" r="1.15" fill="#40e0d0"/>
<circle cx="138.30" cy="269.80" r="1.15" fill="#40e0d0"/>
<circle cx="140.60" cy="266.96" r="1.15" fill="#40e0d0"/>
<circle cx="142.90" cy="264.45" r="1.15" fill="#40e0d0"/>
<circle cx="145.20" cy="259.49" r="1.15" fill="#40e0d0"/>
<circle cx="147.50" cy="253.16" r="1.15" fill="#40e0d0"/>
<circle cx="149.80" cy="247.25" r="1.15" fill="#40e0d0"/>
<circle cx="152.10" cy="241.62" r="1.15" fill="#40e0d0"/>
<circle cx="154.40" cy="237.31" r="1.15" fill="#40e0d0"/>
<circle cx="156.70" cy="233.21" r="1.15" fill="#40e0d0"/>
<circle cx="159.00" cy="222.30" r="1.15" fill="#40e0d0"/>
<circle cx="64.70" cy="335.30" r="1.15" fill="#000000"/>
<circle cx="68.70" cy="333.80" r="1.15" fill="#000000"/>
<circle cx="72.40" cy="335.20" r="1.15" fill="#000000"/>
<circle cx="75.60" cy="333.80" r="1.15" fill="#000000"/>
<circle cx="78.40" cy="335.80" r="1.15" fill="#000000"/>
<circle cx="85.90" cy="336.00" r="1.15" fill="#000000"/>
<circle cx="96.00" cy="336.60" r="1.15" fill="#000000"/>
<circle cx="107.90" cy="337.50" r="1.15" fill="#000000"/>
<circle cx="119.60" cy="336.90" r="1.15" fill="#000000"/>
<circle cx="128.00" cy="334.50" r="1.15" fill="#000000"/>
<circle cx="134.20" cy="331.30" r="1.15" fill="#000000"/>
<circle cx="141.00" cy="329.00" r="1.15" fill="#000000"/>
<circle cx="146.30" cy="325.90" r="1.15" fill="#000000"/>
<circle cx="150.40" cy="324.30" r="1.15" fill="#000000"/>
<circle cx="154.40" cy="320.90" r="1.15" fill="#000000"/>
<circle cx="157.10" cy="317.50" r="1.15" fill="#000000"/>
<circle cx="160.00" cy="314.50" r="1.15" fill="#000000"/>
<circle cx="162.20" cy="313.00" r="1.15" fill="#000000"/>
<circle cx="164.80" cy="310.30" r="1.15" fill="#000000"/>
<circle cx="166.40" cy="308.30" r="1.15" fill="#000000"/>
<circle cx="168.75" cy="305.60" r="1.15" fill="#000000"/>
<circle cx="169.80" cy="303.60" r="1.15" fill="#000000"/>
<circle cx="171.60" cy="301.25" r="1.15" fill="#000000"/>
<circle cx="173.10" cy="298.90" r="1.15" fill="#000000"/>
<circle cx="174.70" cy="296.25" r="1.15" fill="#000000"/>
<path d="M42.03 356.10L42.03 353.80M42.03 201.60L42.03 203.90M44.73 356.10L44.73 353.80M44.73 201.60L44.73 203.90M47.12 356.10L47.12 353.80M47.12 201.60L47.12 203.90M49.25 356.10L49.25 352.10M49.25 201.60L49.25 205.60M63.28 356.10L63.28 353.80M63.28 201.60L63.28 203.90M71.48 356.10L71.48 353.80M71.48 201.60L71.48 203.90M77.31 356.10L77.31 353.80M77.31 201.60L77.31 203.90M81.82 356.10L81.82 353.80M81.82 201.60L81.82 203.90M85.51 356.10L85.51 353.80M85.51 201.60L85.51 203.90M88.63 356.10L88.63 353.80M88.63 201.60L88.63 203.90M91.33 356.10L91.33 353.80M91.33 201.60L91.33 203.90M93.72 356.10L93.72 353.80M93.72 201.60L93.72 203.90M95.85 356.10L95.85 352.10M95.85 201.60L95.85 205.60M109.88 356.10L109.88 353.80M109.88 201.60L109.88 203.90M118.08 356.10L118.08 353.80M118.08 201.60L118.08 203.90M123.91 356.10L123.91 353.80M123.91 201.60L123.91 203.90M128.42 356.10L128.42 353.80M128.42 201.60L128.42 203.90M132.11 356.10L132.11 353.80M132.11 201.60L132.11 203.90M135.23 356.10L135.23 353.80M135.23 201.60L135.23 203.90M137.93 356.10L137.93 353.80M137.93 201.60L137.93 203.90M140.32 356.10L140.32 353.80M140.32 201.60L140.32 203.90M142.45 356.10L142.45 352.10M142.45 201.60L142.45 205.60M156.48 356.10L156.48 353.80M156.48 201.60L156.48 203.90M164.68 356.10L164.68 353.80M164.68 201.60L164.68 203.90M170.51 356.10L170.51 353.80M170.51 201.60L170.51 203.90M175.02 356.10L175.02 353.80M175.02 201.60L175.02 203.90M178.71 356.10L178.71 353.80M178.71 201.60L178.71 203.90M181.83 356.10L181.83 353.80M181.83 201.60L181.83 203.90M184.53 356.10L184.53 353.80M184.53 201.60L184.53 203.90M186.92 356.10L186.92 353.80M186.92 201.60L186.92 203.90M189.05 356.10L189.05 352.10M189.05 201.60L189.05 205.60M203.08 356.10L203.08 353.80M203.08 201.60L203.08 203.90M211.28 356.10L211.28 353.80M211.28 201.60L211.28 203.90M217.11 356.10L217.11 353.80M217.11 201.60L217.11 203.90M221.62 356.10L221.62 353.80M221.62 201.60L221.62 203.90M225.31 356.10L225.31 353.80M225.31 201.60L225.31 203.90M228.43 356.10L228.43 353.80M228.43 201.60L228.43 203.90M231.13 356.10L231.13 353.80M231.13 201.60L231.13 203.90M233.52 356.10L233.52 353.80M233.52 201.60L233.52 203.90M235.65 356.10L235.65 352.10M235.65 201.60L235.65 205.60" stroke="#000" stroke-width="1.3" fill="none"/>
<path d="M39.00 345.06L41.30 345.06M249.10 345.06L246.80 345.06M39.00 334.03L43.00 334.03M249.10 334.03L245.10 334.03M39.00 322.99L41.30 322.99M249.10 322.99L246.80 322.99M39.00 311.96L43.00 311.96M249.10 311.96L245.10 311.96M39.00 300.92L41.30 300.92M249.10 300.92L246.80 300.92M39.00 289.89L43.00 289.89M249.10 289.89L245.10 289.89M39.00 278.85L41.30 278.85M249.10 278.85L246.80 278.85M39.00 267.81L43.00 267.81M249.10 267.81L245.10 267.81M39.00 256.78L41.30 256.78M249.10 256.78L246.80 256.78M39.00 245.74L43.00 245.74M249.10 245.74L245.10 245.74M39.00 234.71L41.30 234.71M249.10 234.71L246.80 234.71M39.00 223.67L43.00 223.67M249.10 223.67L245.10 223.67M39.00 212.64L41.30 212.64M249.10 212.64L246.80 212.64" stroke="#000" stroke-width="1.3" fill="none"/>
<rect x="39.0" y="201.6" width="210.1" height="154.50000000000003" fill="none" stroke="#000" stroke-width="1.6"/>
<rect x="50.3" y="213.0" width="46.10000000000001" height="82.69999999999999" fill="#fff" stroke="#000" stroke-width="1.4"/>
<circle cx="56.9" cy="218.00" r="1.3" fill="#40e0d0"/>
<text x="64.90" y="220.70" font-size="7.7" text-anchor="start" style="stroke-width:0.12px">ρ = 0.605</text>
<circle cx="56.9" cy="227.00" r="1.3" fill="#7221bc"/>
<text x="64.90" y="229.70" font-size="7.7" text-anchor="start" style="stroke-width:0.12px">ρ = 0.702</text>
<circle cx="56.9" cy="236.00" r="1.3" fill="#670748"/>
<text x="64.90" y="238.70" font-size="7.7" text-anchor="start" style="stroke-width:0.12px">ρ = 0.801</text>
<circle cx="56.9" cy="245.00" r="1.3" fill="#ffa500"/>
<text x="64.90" y="247.70" font-size="7.7" text-anchor="start" style="stroke-width:0.12px">ρ = 0.875</text>
<circle cx="56.9" cy="254.00" r="1.3" fill="#000000"/>
<text x="64.90" y="256.70" font-size="7.7" text-anchor="start" style="stroke-width:0.12px">ρ = 1.090</text>
<circle cx="56.9" cy="263.00" r="1.3" fill="#ff0000"/>
<text x="64.90" y="265.70" font-size="7.7" text-anchor="start" style="stroke-width:0.12px">ρ = 1.437</text>
<circle cx="56.9" cy="272.00" r="1.3" fill="#00ff00"/>
<text x="64.90" y="274.70" font-size="7.7" text-anchor="start" style="stroke-width:0.12px">ρ = 1.987</text>
<circle cx="56.9" cy="281.00" r="1.3" fill="#0000ff"/>
<text x="64.90" y="283.70" font-size="7.7" text-anchor="start" style="stroke-width:0.12px">ρ = 2.417</text>
<circle cx="56.9" cy="290.00" r="1.3" fill="#bc8f8f"/>
<text x="64.90" y="292.70" font-size="7.7" text-anchor="start" style="stroke-width:0.12px">ρ = 3.390</text>
<text x="36.90" y="359.60" font-size="10.4" text-anchor="end" >0.12</text>
<text x="36.90" y="337.53" font-size="10.4" text-anchor="end" >0.15</text>
<text x="36.90" y="315.46" font-size="10.4" text-anchor="end" >0.18</text>
<text x="36.90" y="293.39" font-size="10.4" text-anchor="end" >0.21</text>
<text x="36.90" y="271.31" font-size="10.4" text-anchor="end" >0.24</text>
<text x="36.90" y="249.24" font-size="10.4" text-anchor="end" >0.27</text>
<text x="36.90" y="227.17" font-size="10.4" text-anchor="end" >0.30</text>
<text x="36.90" y="205.10" font-size="10.4" text-anchor="end" >0.33</text>
<text x="43.10" y="370.90" font-size="10.2" text-anchor="start" >10</text>
<text x="54.00" y="364.90" font-size="7.2" text-anchor="start" >0</text>
<text x="89.70" y="370.90" font-size="10.2" text-anchor="start" >10</text>
<text x="100.60" y="364.90" font-size="7.2" text-anchor="start" >1</text>
<text x="136.30" y="370.90" font-size="10.2" text-anchor="start" >10</text>
<text x="147.20" y="364.90" font-size="7.2" text-anchor="start" >2</text>
<text x="182.90" y="370.90" font-size="10.2" text-anchor="start" >10</text>
<text x="193.80" y="364.90" font-size="7.2" text-anchor="start" >3</text>
<text x="229.50" y="370.90" font-size="10.2" text-anchor="start" >10</text>
<text x="240.40" y="364.90" font-size="7.2" text-anchor="start" >4</text>
<text x="144.60" y="379.80" font-size="10.6" text-anchor="middle" >T</text>
<text x="232.40" y="346.30" font-size="10.6" text-anchor="middle" >0.146</text>
<text transform="translate(14.0,275.2) rotate(-90)" font-size="11" text-anchor="middle">Dη/(k<tspan font-size="7.4" dy="2.8">B</tspan><tspan dy="-2.8"> Tρ</tspan><tspan font-size="7.4" dy="-5.8">1/3</tspan><tspan dy="5.8">)</tspan></text>
<text x="232.90" y="224.60" font-size="10.6" text-anchor="middle" >(c)</text>
<path d="M302.70 331.60 L306.96 331.61 L313.01 331.62 L320.10 331.64 L327.47 331.64 L334.35 331.63 L340.00 331.60 L344.45 331.53 L348.32 331.44 L351.71 331.34 L354.71 331.22 L357.45 331.11 L360.00 331.00 L362.19 330.91 L363.89 330.83 L365.31 330.74 L366.67 330.65 L368.16 330.54 L370.00 330.40 L372.21 330.24 L374.63 330.07 L377.19 329.87 L379.81 329.66 L382.44 329.40 L385.00 329.10 L387.54 328.76 L390.13 328.38 L392.72 327.97 L395.26 327.52 L397.70 327.03 L400.00 326.50 L402.12 325.92 L404.09 325.28 L405.97 324.61 L407.80 323.91 L409.62 323.20 L411.50 322.50 L413.42 321.82 L415.33 321.15 L417.24 320.48 L419.16 319.77 L421.08 319.02 L423.00 318.20 L425.00 317.27 L427.09 316.24 L429.18 315.17 L431.19 314.10 L433.02 313.09 L434.60 312.20 L435.85 311.45 L436.84 310.79 L437.65 310.20 L438.39 309.63 L439.14 309.04 L440.00 308.40 L440.95 307.73 L441.90 307.06 L442.88 306.37 L443.87 305.65 L444.91 304.87 L446.00 304.00 L447.19 302.99 L448.48 301.86 L449.81 300.66 L451.11 299.47 L452.33 298.36 L453.40 297.40 L454.29 296.62 L455.03 295.97 L455.69 295.40 L456.32 294.85 L456.97 294.27 L457.70 293.60 L458.49 292.87 L459.30 292.13 L460.13 291.35 L460.99 290.52 L461.88 289.61 L462.80 288.60 L463.78 287.45 L464.81 286.17 L465.88 284.82 L466.94 283.44 L467.99 282.08 L469.00 280.80 L469.99 279.56 L471.00 278.30 L471.98 277.08 L472.91 275.91 L473.77 274.84 L474.50 273.90 L475.07 273.15 L475.50 272.58 L475.84 272.10 L476.17 271.64 L476.53 271.14 L477.00 270.50 L477.58 269.73 L478.22 268.87 L478.91 267.96 L479.61 267.03 L480.32 266.10 L481.00 265.20 L481.67 264.32 L482.36 263.44 L483.04 262.56 L483.71 261.69 L484.37 260.84 L485.00 260.00 L485.58 259.23 L486.10 258.53 L486.60 257.85 L487.13 257.12 L487.71 256.29 L488.40 255.30 L489.21 254.10 L490.12 252.73 L491.09 251.26 L492.09 249.76 L493.07 248.28 L494.00 246.90 L494.87 245.63 L495.71 244.42 L496.54 243.24 L497.37 242.07 L498.22 240.86 L499.10 239.60 L500.03 238.26 L500.99 236.86 L501.98 235.43 L502.95 234.01 L503.90 232.62 L504.80 231.30 L505.66 230.03 L506.51 228.79 L507.32 227.58 L508.10 226.41 L508.83 225.32 L509.50 224.30 L510.12 223.33 L510.71 222.39 L511.24 221.51 L511.71 220.73 L512.11 220.08 L512.40 219.60" stroke="#000" stroke-width="1.5" fill="none" stroke-linecap="round" stroke-linejoin="round" />
<circle cx="322.57" cy="330.89" r="1.15" fill="#bc8f8f"/>
<circle cx="325.94" cy="331.38" r="1.15" fill="#bc8f8f"/>
<circle cx="332.36" cy="332.36" r="1.15" fill="#bc8f8f"/>
<circle cx="338.88" cy="332.15" r="1.15" fill="#bc8f8f"/>
<circle cx="345.18" cy="332.57" r="1.15" fill="#bc8f8f"/>
<circle cx="351.71" cy="332.36" r="1.15" fill="#bc8f8f"/>
<circle cx="358.12" cy="332.85" r="1.15" fill="#bc8f8f"/>
<circle cx="364.08" cy="332.15" r="1.15" fill="#bc8f8f"/>
<circle cx="370.38" cy="331.31" r="1.15" fill="#bc8f8f"/>
<circle cx="376.57" cy="331.03" r="1.15" fill="#bc8f8f"/>
<circle cx="382.99" cy="329.21" r="1.15" fill="#bc8f8f"/>
<circle cx="389.40" cy="327.82" r="1.15" fill="#bc8f8f"/>
<circle cx="395.81" cy="326.28" r="1.15" fill="#bc8f8f"/>
<circle cx="323.08" cy="331.69" r="1.15" fill="#0000ff"/>
<circle cx="330.84" cy="330.92" r="1.15" fill="#0000ff"/>
<circle cx="334.22" cy="332.46" r="1.15" fill="#0000ff"/>
<circle cx="338.61" cy="331.69" r="1.15" fill="#0000ff"/>
<circle cx="342.88" cy="332.81" r="1.15" fill="#0000ff"/>
<circle cx="346.26" cy="332.46" r="1.15" fill="#0000ff"/>
<circle cx="349.75" cy="331.27" r="1.15" fill="#0000ff"/>
<circle cx="353.23" cy="332.04" r="1.15" fill="#0000ff"/>
<circle cx="356.61" cy="333.23" r="1.15" fill="#0000ff"/>
<circle cx="360.88" cy="333.09" r="1.15" fill="#0000ff"/>
<circle cx="366.96" cy="333.51" r="1.15" fill="#0000ff"/>
<circle cx="371.80" cy="332.39" r="1.15" fill="#0000ff"/>
<circle cx="376.19" cy="332.04" r="1.15" fill="#0000ff"/>
<circle cx="380.57" cy="331.48" r="1.15" fill="#0000ff"/>
<circle cx="385.07" cy="330.78" r="1.15" fill="#0000ff"/>
<circle cx="389.46" cy="330.08" r="1.15" fill="#0000ff"/>
<circle cx="393.74" cy="328.76" r="1.15" fill="#0000ff"/>
<circle cx="398.35" cy="326.94" r="1.15" fill="#0000ff"/>
<circle cx="402.63" cy="326.66" r="1.15" fill="#0000ff"/>
<circle cx="330.78" cy="332.15" r="1.15" fill="#00ff00"/>
<circle cx="348.22" cy="332.01" r="1.15" fill="#00ff00"/>
<circle cx="353.39" cy="331.59" r="1.15" fill="#00ff00"/>
<circle cx="358.57" cy="332.01" r="1.15" fill="#00ff00"/>
<circle cx="365.20" cy="331.59" r="1.15" fill="#00ff00"/>
<circle cx="372.29" cy="332.01" r="1.15" fill="#00ff00"/>
<circle cx="377.36" cy="331.59" r="1.15" fill="#00ff00"/>
<circle cx="385.34" cy="330.47" r="1.15" fill="#00ff00"/>
<circle cx="393.11" cy="328.58" r="1.15" fill="#00ff00"/>
<circle cx="400.87" cy="326.21" r="1.15" fill="#00ff00"/>
<circle cx="408.30" cy="322.99" r="1.15" fill="#00ff00"/>
<circle cx="416.85" cy="319.22" r="1.15" fill="#00ff00"/>
<circle cx="320.38" cy="330.40" r="1.15" fill="#ff0000"/>
<circle cx="324.99" cy="330.54" r="1.15" fill="#ff0000"/>
<circle cx="329.38" cy="329.91" r="1.15" fill="#ff0000"/>
<circle cx="332.75" cy="330.54" r="1.15" fill="#ff0000"/>
<circle cx="335.90" cy="330.82" r="1.15" fill="#ff0000"/>
<circle cx="344.79" cy="332.22" r="1.15" fill="#ff0000"/>
<circle cx="354.13" cy="332.08" r="1.15" fill="#ff0000"/>
<circle cx="365.38" cy="331.87" r="1.15" fill="#ff0000"/>
<circle cx="376.63" cy="331.38" r="1.15" fill="#ff0000"/>
<circle cx="384.39" cy="332.36" r="1.15" fill="#ff0000"/>
<circle cx="389.01" cy="329.91" r="1.15" fill="#ff0000"/>
<circle cx="393.62" cy="329.91" r="1.15" fill="#ff0000"/>
<circle cx="400.15" cy="327.75" r="1.15" fill="#ff0000"/>
<circle cx="407.23" cy="325.65" r="1.15" fill="#ff0000"/>
<circle cx="414.10" cy="323.27" r="1.15" fill="#ff0000"/>
<circle cx="420.85" cy="318.59" r="1.15" fill="#ff0000"/>
<circle cx="429.17" cy="313.48" r="1.15" fill="#ff0000"/>
<circle cx="436.71" cy="307.82" r="1.15" fill="#ff0000"/>
<circle cx="322.14" cy="327.19" r="1.15" fill="#ffa500"/>
<circle cx="324.73" cy="327.06" r="1.15" fill="#ffa500"/>
<circle cx="327.31" cy="327.59" r="1.15" fill="#ffa500"/>
<circle cx="329.90" cy="328.21" r="1.15" fill="#ffa500"/>
<circle cx="332.49" cy="328.84" r="1.15" fill="#ffa500"/>
<circle cx="335.08" cy="329.41" r="1.15" fill="#ffa500"/>
<circle cx="337.66" cy="329.77" r="1.15" fill="#ffa500"/>
<circle cx="340.25" cy="330.12" r="1.15" fill="#ffa500"/>
<circle cx="342.84" cy="330.47" r="1.15" fill="#ffa500"/>
<circle cx="345.43" cy="330.49" r="1.15" fill="#ffa500"/>
<circle cx="348.02" cy="330.43" r="1.15" fill="#ffa500"/>
<circle cx="350.60" cy="330.37" r="1.15" fill="#ffa500"/>
<circle cx="353.19" cy="330.35" r="1.15" fill="#ffa500"/>
<circle cx="355.78" cy="330.38" r="1.15" fill="#ffa500"/>
<circle cx="358.37" cy="330.42" r="1.15" fill="#ffa500"/>
<circle cx="360.95" cy="330.46" r="1.15" fill="#ffa500"/>
<circle cx="363.54" cy="330.48" r="1.15" fill="#ffa500"/>
<circle cx="366.13" cy="330.50" r="1.15" fill="#ffa500"/>
<circle cx="368.72" cy="330.51" r="1.15" fill="#ffa500"/>
<circle cx="371.31" cy="330.53" r="1.15" fill="#ffa500"/>
<circle cx="373.89" cy="330.53" r="1.15" fill="#ffa500"/>
<circle cx="376.48" cy="330.46" r="1.15" fill="#ffa500"/>
<circle cx="379.07" cy="330.40" r="1.15" fill="#ffa500"/>
<circle cx="381.66" cy="330.34" r="1.15" fill="#ffa500"/>
<circle cx="384.24" cy="330.27" r="1.15" fill="#ffa500"/>
<circle cx="386.83" cy="330.21" r="1.15" fill="#ffa500"/>
<circle cx="389.42" cy="329.93" r="1.15" fill="#ffa500"/>
<circle cx="392.01" cy="329.60" r="1.15" fill="#ffa500"/>
<circle cx="394.59" cy="329.25" r="1.15" fill="#ffa500"/>
<circle cx="397.18" cy="328.70" r="1.15" fill="#ffa500"/>
<circle cx="399.77" cy="328.15" r="1.15" fill="#ffa500"/>
<circle cx="402.36" cy="327.60" r="1.15" fill="#ffa500"/>
<circle cx="404.95" cy="327.05" r="1.15" fill="#ffa500"/>
<circle cx="407.53" cy="326.24" r="1.15" fill="#ffa500"/>
<circle cx="410.12" cy="325.48" r="1.15" fill="#ffa500"/>
<circle cx="412.71" cy="324.86" r="1.15" fill="#ffa500"/>
<circle cx="415.30" cy="324.07" r="1.15" fill="#ffa500"/>
<circle cx="417.88" cy="323.10" r="1.15" fill="#ffa500"/>
<circle cx="420.47" cy="322.05" r="1.15" fill="#ffa500"/>
<circle cx="423.06" cy="320.96" r="1.15" fill="#ffa500"/>
<circle cx="425.65" cy="319.75" r="1.15" fill="#ffa500"/>
<circle cx="428.24" cy="318.54" r="1.15" fill="#ffa500"/>
<circle cx="430.82" cy="317.38" r="1.15" fill="#ffa500"/>
<circle cx="433.41" cy="315.71" r="1.15" fill="#ffa500"/>
<circle cx="436.00" cy="313.49" r="1.15" fill="#ffa500"/>
<circle cx="438.59" cy="311.58" r="1.15" fill="#ffa500"/>
<circle cx="441.17" cy="309.72" r="1.15" fill="#ffa500"/>
<circle cx="443.76" cy="306.67" r="1.15" fill="#ffa500"/>
<circle cx="446.35" cy="304.37" r="1.15" fill="#ffa500"/>
<circle cx="448.94" cy="302.21" r="1.15" fill="#ffa500"/>
<circle cx="451.53" cy="299.55" r="1.15" fill="#ffa500"/>
<circle cx="454.11" cy="296.60" r="1.15" fill="#ffa500"/>
<circle cx="456.70" cy="294.16" r="1.15" fill="#ffa500"/>
<circle cx="459.29" cy="291.93" r="1.15" fill="#ffa500"/>
<circle cx="461.88" cy="289.73" r="1.15" fill="#ffa500"/>
<circle cx="464.46" cy="286.64" r="1.15" fill="#ffa500"/>
<circle cx="467.05" cy="281.61" r="1.15" fill="#ffa500"/>
<circle cx="469.64" cy="277.76" r="1.15" fill="#ffa500"/>
<circle cx="472.23" cy="275.16" r="1.15" fill="#ffa500"/>
<circle cx="474.81" cy="271.41" r="1.15" fill="#ffa500"/>
<circle cx="477.40" cy="267.37" r="1.15" fill="#ffa500"/>
<circle cx="479.54" cy="264.62" r="1.15" fill="#ffa500"/>
<circle cx="330.08" cy="329.72" r="1.15" fill="#670748"/>
<circle cx="332.33" cy="329.95" r="1.15" fill="#670748"/>
<circle cx="334.58" cy="330.17" r="1.15" fill="#670748"/>
<circle cx="336.83" cy="330.39" r="1.15" fill="#670748"/>
<circle cx="339.08" cy="330.61" r="1.15" fill="#670748"/>
<circle cx="341.33" cy="330.83" r="1.15" fill="#670748"/>
<circle cx="343.58" cy="330.96" r="1.15" fill="#670748"/>
<circle cx="345.83" cy="331.09" r="1.15" fill="#670748"/>
<circle cx="348.08" cy="331.21" r="1.15" fill="#670748"/>
<circle cx="350.33" cy="331.33" r="1.15" fill="#670748"/>
<circle cx="352.58" cy="331.33" r="1.15" fill="#670748"/>
<circle cx="354.83" cy="331.33" r="1.15" fill="#670748"/>
<circle cx="357.08" cy="331.33" r="1.15" fill="#670748"/>
<circle cx="359.33" cy="331.33" r="1.15" fill="#670748"/>
<circle cx="361.58" cy="331.28" r="1.15" fill="#670748"/>
<circle cx="363.83" cy="331.24" r="1.15" fill="#670748"/>
<circle cx="366.08" cy="331.19" r="1.15" fill="#670748"/>
<circle cx="368.33" cy="331.14" r="1.15" fill="#670748"/>
<circle cx="370.58" cy="331.06" r="1.15" fill="#670748"/>
<circle cx="372.83" cy="330.98" r="1.15" fill="#670748"/>
<circle cx="375.08" cy="330.90" r="1.15" fill="#670748"/>
<circle cx="377.33" cy="330.80" r="1.15" fill="#670748"/>
<circle cx="379.58" cy="330.66" r="1.15" fill="#670748"/>
<circle cx="381.83" cy="330.51" r="1.15" fill="#670748"/>
<circle cx="384.08" cy="330.37" r="1.15" fill="#670748"/>
<circle cx="386.33" cy="330.20" r="1.15" fill="#670748"/>
<circle cx="388.58" cy="329.98" r="1.15" fill="#670748"/>
<circle cx="390.83" cy="329.77" r="1.15" fill="#670748"/>
<circle cx="393.08" cy="329.55" r="1.15" fill="#670748"/>
<circle cx="395.34" cy="329.21" r="1.15" fill="#670748"/>
<circle cx="397.59" cy="328.75" r="1.15" fill="#670748"/>
<circle cx="399.84" cy="328.27" r="1.15" fill="#670748"/>
<circle cx="402.09" cy="327.76" r="1.15" fill="#670748"/>
<circle cx="404.34" cy="327.10" r="1.15" fill="#670748"/>
<circle cx="406.59" cy="326.37" r="1.15" fill="#670748"/>
<circle cx="408.84" cy="325.67" r="1.15" fill="#670748"/>
<circle cx="411.09" cy="324.88" r="1.15" fill="#670748"/>
<circle cx="413.34" cy="323.96" r="1.15" fill="#670748"/>
<circle cx="415.59" cy="322.96" r="1.15" fill="#670748"/>
<circle cx="417.84" cy="321.82" r="1.15" fill="#670748"/>
<circle cx="420.09" cy="320.66" r="1.15" fill="#670748"/>
<circle cx="422.34" cy="319.39" r="1.15" fill="#670748"/>
<circle cx="424.59" cy="318.12" r="1.15" fill="#670748"/>
<circle cx="426.84" cy="316.85" r="1.15" fill="#670748"/>
<circle cx="429.09" cy="315.56" r="1.15" fill="#670748"/>
<circle cx="431.34" cy="314.26" r="1.15" fill="#670748"/>
<circle cx="433.59" cy="312.85" r="1.15" fill="#670748"/>
<circle cx="435.84" cy="311.37" r="1.15" fill="#670748"/>
<circle cx="438.09" cy="309.70" r="1.15" fill="#670748"/>
<circle cx="440.34" cy="307.91" r="1.15" fill="#670748"/>
<circle cx="442.59" cy="306.45" r="1.15" fill="#670748"/>
<circle cx="444.84" cy="304.64" r="1.15" fill="#670748"/>
<circle cx="447.09" cy="302.48" r="1.15" fill="#670748"/>
<circle cx="449.34" cy="300.40" r="1.15" fill="#670748"/>
<circle cx="344.80" cy="331.07" r="1.15" fill="#7221bc"/>
<circle cx="347.16" cy="331.12" r="1.15" fill="#7221bc"/>
<circle cx="349.52" cy="331.17" r="1.15" fill="#7221bc"/>
<circle cx="351.89" cy="331.22" r="1.15" fill="#7221bc"/>
<circle cx="354.25" cy="331.27" r="1.15" fill="#7221bc"/>
<circle cx="356.61" cy="331.33" r="1.15" fill="#7221bc"/>
<circle cx="358.97" cy="331.39" r="1.15" fill="#7221bc"/>
<circle cx="361.34" cy="331.45" r="1.15" fill="#7221bc"/>
<circle cx="363.70" cy="331.47" r="1.15" fill="#7221bc"/>
<circle cx="366.06" cy="331.39" r="1.15" fill="#7221bc"/>
<circle cx="368.42" cy="331.32" r="1.15" fill="#7221bc"/>
<circle cx="370.79" cy="331.19" r="1.15" fill="#7221bc"/>
<circle cx="373.15" cy="331.01" r="1.15" fill="#7221bc"/>
<circle cx="375.51" cy="330.82" r="1.15" fill="#7221bc"/>
<circle cx="377.88" cy="330.62" r="1.15" fill="#7221bc"/>
<circle cx="380.24" cy="330.41" r="1.15" fill="#7221bc"/>
<circle cx="382.60" cy="330.20" r="1.15" fill="#7221bc"/>
<circle cx="384.96" cy="330.12" r="1.15" fill="#7221bc"/>
<circle cx="387.33" cy="330.17" r="1.15" fill="#7221bc"/>
<circle cx="389.69" cy="330.21" r="1.15" fill="#7221bc"/>
<circle cx="392.05" cy="330.04" r="1.15" fill="#7221bc"/>
<circle cx="394.41" cy="329.66" r="1.15" fill="#7221bc"/>
<circle cx="396.78" cy="329.28" r="1.15" fill="#7221bc"/>
<circle cx="399.14" cy="328.83" r="1.15" fill="#7221bc"/>
<circle cx="401.50" cy="328.33" r="1.15" fill="#7221bc"/>
<circle cx="403.87" cy="327.76" r="1.15" fill="#7221bc"/>
<circle cx="406.23" cy="327.04" r="1.15" fill="#7221bc"/>
<circle cx="408.59" cy="326.32" r="1.15" fill="#7221bc"/>
<circle cx="410.95" cy="325.57" r="1.15" fill="#7221bc"/>
<circle cx="413.32" cy="324.82" r="1.15" fill="#7221bc"/>
<circle cx="415.68" cy="323.89" r="1.15" fill="#7221bc"/>
<circle cx="418.04" cy="322.94" r="1.15" fill="#7221bc"/>
<circle cx="420.40" cy="322.03" r="1.15" fill="#7221bc"/>
<circle cx="422.77" cy="320.90" r="1.15" fill="#7221bc"/>
<circle cx="425.13" cy="319.59" r="1.15" fill="#7221bc"/>
<circle cx="427.49" cy="317.88" r="1.15" fill="#7221bc"/>
<circle cx="429.86" cy="316.42" r="1.15" fill="#7221bc"/>
<circle cx="432.22" cy="315.03" r="1.15" fill="#7221bc"/>
<circle cx="434.58" cy="313.29" r="1.15" fill="#7221bc"/>
<circle cx="436.94" cy="311.54" r="1.15" fill="#7221bc"/>
<circle cx="439.31" cy="309.80" r="1.15" fill="#7221bc"/>
<circle cx="441.67" cy="308.27" r="1.15" fill="#7221bc"/>
<circle cx="444.03" cy="306.84" r="1.15" fill="#7221bc"/>
<circle cx="446.39" cy="304.81" r="1.15" fill="#7221bc"/>
<circle cx="448.76" cy="302.20" r="1.15" fill="#7221bc"/>
<circle cx="451.12" cy="299.12" r="1.15" fill="#7221bc"/>
<circle cx="453.48" cy="297.01" r="1.15" fill="#7221bc"/>
<circle cx="455.85" cy="295.38" r="1.15" fill="#7221bc"/>
<circle cx="458.21" cy="292.02" r="1.15" fill="#7221bc"/>
<circle cx="460.57" cy="289.92" r="1.15" fill="#7221bc"/>
<circle cx="462.93" cy="287.93" r="1.15" fill="#7221bc"/>
<circle cx="465.30" cy="285.23" r="1.15" fill="#7221bc"/>
<circle cx="467.66" cy="281.39" r="1.15" fill="#7221bc"/>
<circle cx="368.66" cy="327.12" r="1.15" fill="#40e0d0"/>
<circle cx="371.25" cy="326.96" r="1.15" fill="#40e0d0"/>
<circle cx="373.84" cy="326.81" r="1.15" fill="#40e0d0"/>
<circle cx="376.42" cy="326.68" r="1.15" fill="#40e0d0"/>
<circle cx="379.01" cy="326.63" r="1.15" fill="#40e0d0"/>
<circle cx="381.60" cy="326.58" r="1.15" fill="#40e0d0"/>
<circle cx="384.19" cy="326.18" r="1.15" fill="#40e0d0"/>
<circle cx="386.78" cy="325.52" r="1.15" fill="#40e0d0"/>
<circle cx="389.36" cy="325.65" r="1.15" fill="#40e0d0"/>
<circle cx="391.95" cy="325.86" r="1.15" fill="#40e0d0"/>
<circle cx="394.54" cy="325.86" r="1.15" fill="#40e0d0"/>
<circle cx="397.13" cy="325.80" r="1.15" fill="#40e0d0"/>
<circle cx="399.71" cy="325.17" r="1.15" fill="#40e0d0"/>
<circle cx="402.30" cy="324.57" r="1.15" fill="#40e0d0"/>
<circle cx="404.89" cy="324.19" r="1.15" fill="#40e0d0"/>
<circle cx="407.48" cy="323.78" r="1.15" fill="#40e0d0"/>
<circle cx="410.06" cy="322.69" r="1.15" fill="#40e0d0"/>
<circle cx="412.65" cy="321.59" r="1.15" fill="#40e0d0"/>
<circle cx="415.24" cy="320.98" r="1.15" fill="#40e0d0"/>
<circle cx="417.83" cy="320.36" r="1.15" fill="#40e0d0"/>
<circle cx="420.42" cy="319.71" r="1.15" fill="#40e0d0"/>
<circle cx="423.00" cy="319.06" r="1.15" fill="#40e0d0"/>
<circle cx="425.59" cy="317.95" r="1.15" fill="#40e0d0"/>
<circle cx="428.18" cy="316.80" r="1.15" fill="#40e0d0"/>
<circle cx="430.77" cy="315.74" r="1.15" fill="#40e0d0"/>
<circle cx="433.35" cy="314.69" r="1.15" fill="#40e0d0"/>
<circle cx="435.94" cy="313.23" r="1.15" fill="#40e0d0"/>
<circle cx="438.53" cy="311.70" r="1.15" fill="#40e0d0"/>
<circle cx="441.12" cy="310.15" r="1.15" fill="#40e0d0"/>
<circle cx="443.71" cy="308.58" r="1.15" fill="#40e0d0"/>
<circle cx="446.29" cy="306.84" r="1.15" fill="#40e0d0"/>
<circle cx="448.88" cy="305.04" r="1.15" fill="#40e0d0"/>
<circle cx="451.47" cy="302.66" r="1.15" fill="#40e0d0"/>
<circle cx="454.06" cy="300.11" r="1.15" fill="#40e0d0"/>
<circle cx="456.64" cy="298.03" r="1.15" fill="#40e0d0"/>
<circle cx="459.23" cy="294.82" r="1.15" fill="#40e0d0"/>
<circle cx="461.82" cy="291.92" r="1.15" fill="#40e0d0"/>
<circle cx="464.41" cy="287.59" r="1.15" fill="#40e0d0"/>
<circle cx="467.00" cy="284.75" r="1.15" fill="#40e0d0"/>
<circle cx="469.58" cy="282.76" r="1.15" fill="#40e0d0"/>
<circle cx="472.17" cy="281.01" r="1.15" fill="#40e0d0"/>
<circle cx="474.76" cy="277.55" r="1.15" fill="#40e0d0"/>
<circle cx="477.35" cy="273.12" r="1.15" fill="#40e0d0"/>
<circle cx="479.93" cy="268.99" r="1.15" fill="#40e0d0"/>
<circle cx="482.52" cy="265.05" r="1.15" fill="#40e0d0"/>
<circle cx="485.11" cy="262.04" r="1.15" fill="#40e0d0"/>
<circle cx="487.70" cy="259.18" r="1.15" fill="#40e0d0"/>
<circle cx="320.75" cy="330.54" r="1.15" fill="#000000"/>
<circle cx="325.25" cy="329.49" r="1.15" fill="#000000"/>
<circle cx="329.41" cy="330.47" r="1.15" fill="#000000"/>
<circle cx="333.01" cy="329.49" r="1.15" fill="#000000"/>
<circle cx="336.16" cy="330.89" r="1.15" fill="#000000"/>
<circle cx="344.60" cy="331.03" r="1.15" fill="#000000"/>
<circle cx="355.96" cy="331.45" r="1.15" fill="#000000"/>
<circle cx="369.35" cy="332.08" r="1.15" fill="#000000"/>
<circle cx="382.52" cy="331.66" r="1.15" fill="#000000"/>
<circle cx="391.97" cy="329.98" r="1.15" fill="#000000"/>
<circle cx="398.94" cy="327.75" r="1.15" fill="#000000"/>
<circle cx="406.59" cy="326.14" r="1.15" fill="#000000"/>
<circle cx="412.56" cy="323.97" r="1.15" fill="#000000"/>
<circle cx="417.17" cy="322.85" r="1.15" fill="#000000"/>
<circle cx="421.67" cy="320.48" r="1.15" fill="#000000"/>
<circle cx="424.71" cy="318.10" r="1.15" fill="#000000"/>
<circle cx="427.97" cy="316.00" r="1.15" fill="#000000"/>
<circle cx="430.45" cy="314.95" r="1.15" fill="#000000"/>
<circle cx="433.37" cy="313.06" r="1.15" fill="#000000"/>
<circle cx="435.17" cy="311.67" r="1.15" fill="#000000"/>
<circle cx="437.81" cy="309.78" r="1.15" fill="#000000"/>
<circle cx="439.00" cy="308.38" r="1.15" fill="#000000"/>
<circle cx="441.02" cy="306.74" r="1.15" fill="#000000"/>
<circle cx="442.71" cy="305.10" r="1.15" fill="#000000"/>
<circle cx="444.51" cy="303.24" r="1.15" fill="#000000"/>
<path d="M318.48 355.30L318.48 353.00M318.48 201.00L318.48 203.30M327.72 355.30L327.72 353.00M327.72 201.00L327.72 203.30M334.27 355.30L334.27 353.00M334.27 201.00L334.27 203.30M339.35 355.30L339.35 353.00M339.35 201.00L339.35 203.30M343.50 355.30L343.50 353.00M343.50 201.00L343.50 203.30M347.01 355.30L347.01 353.00M347.01 201.00L347.01 203.30M350.05 355.30L350.05 353.00M350.05 201.00L350.05 203.30M352.73 355.30L352.73 353.00M352.73 201.00L352.73 203.30M355.13 355.30L355.13 351.30M355.13 201.00L355.13 205.00M370.91 355.30L370.91 353.00M370.91 201.00L370.91 203.30M380.15 355.30L380.15 353.00M380.15 201.00L380.15 203.30M386.70 355.30L386.70 353.00M386.70 201.00L386.70 203.30M391.78 355.30L391.78 353.00M391.78 201.00L391.78 203.30M395.93 355.30L395.93 353.00M395.93 201.00L395.93 203.30M399.44 355.30L399.44 353.00M399.44 201.00L399.44 203.30M402.48 355.30L402.48 353.00M402.48 201.00L402.48 203.30M405.16 355.30L405.16 353.00M405.16 201.00L405.16 203.30M407.56 355.30L407.56 351.30M407.56 201.00L407.56 205.00M423.34 355.30L423.34 353.00M423.34 201.00L423.34 203.30M432.58 355.30L432.58 353.00M432.58 201.00L432.58 203.30M439.13 355.30L439.13 353.00M439.13 201.00L439.13 203.30M444.21 355.30L444.21 353.00M444.21 201.00L444.21 203.30M448.36 355.30L448.36 353.00M448.36 201.00L448.36 203.30M451.87 355.30L451.87 353.00M451.87 201.00L451.87 203.30M454.91 355.30L454.91 353.00M454.91 201.00L454.91 203.30M457.59 355.30L457.59 353.00M457.59 201.00L457.59 203.30M459.99 355.30L459.99 351.30M459.99 201.00L459.99 205.00M475.77 355.30L475.77 353.00M475.77 201.00L475.77 203.30M485.01 355.30L485.01 353.00M485.01 201.00L485.01 203.30M491.56 355.30L491.56 353.00M491.56 201.00L491.56 203.30M496.64 355.30L496.64 353.00M496.64 201.00L496.64 203.30M500.79 355.30L500.79 353.00M500.79 201.00L500.79 203.30M504.30 355.30L504.30 353.00M504.30 201.00L504.30 203.30M507.34 355.30L507.34 353.00M507.34 201.00L507.34 203.30M510.02 355.30L510.02 353.00M510.02 201.00L510.02 203.30" stroke="#000" stroke-width="1.3" fill="none"/>
<path d="M302.70 346.73L305.00 346.73M512.40 346.73L510.10 346.73M302.70 338.16L305.00 338.16M512.40 338.16L510.10 338.16M302.70 329.58L306.70 329.58M512.40 329.58L508.40 329.58M302.70 321.01L305.00 321.01M512.40 321.01L510.10 321.01M302.70 312.44L305.00 312.44M512.40 312.44L510.10 312.44M302.70 303.87L306.70 303.87M512.40 303.87L508.40 303.87M302.70 295.29L305.00 295.29M512.40 295.29L510.10 295.29M302.70 286.72L305.00 286.72M512.40 286.72L510.10 286.72M302.70 278.15L306.70 278.15M512.40 278.15L508.40 278.15M302.70 269.58L305.00 269.58M512.40 269.58L510.10 269.58M302.70 261.01L305.00 261.01M512.40 261.01L510.10 261.01M302.70 252.43L306.70 252.43M512.40 252.43L508.40 252.43M302.70 243.86L305.00 243.86M512.40 243.86L510.10 243.86M302.70 235.29L305.00 235.29M512.40 235.29L510.10 235.29M302.70 226.72L306.70 226.72M512.40 226.72L508.40 226.72M302.70 218.14L305.00 218.14M512.40 218.14L510.10 218.14M302.70 209.57L305.00 209.57M512.40 209.57L510.10 209.57" stroke="#000" stroke-width="1.3" fill="none"/>
<rect x="302.7" y="201.0" width="209.7" height="154.3" fill="none" stroke="#000" stroke-width="1.6"/>
<rect x="325" y="212.5" width="45.69999999999999" height="91.60000000000002" fill="#fff" stroke="#000" stroke-width="1.4"/>
<circle cx="332.0" cy="217.60" r="1.3" fill="#40e0d0"/>
<text x="340.40" y="220.30" font-size="7.7" text-anchor="start" style="stroke-width:0.12px">ρ = 0.605</text>
<circle cx="332.0" cy="226.60" r="1.3" fill="#7221bc"/>
<text x="340.40" y="229.30" font-size="7.7" text-anchor="start" style="stroke-width:0.12px">ρ = 0.702</text>
<circle cx="332.0" cy="235.60" r="1.3" fill="#670748"/>
<text x="340.40" y="238.30" font-size="7.7" text-anchor="start" style="stroke-width:0.12px">ρ = 0.801</text>
<circle cx="332.0" cy="244.60" r="1.3" fill="#ffa500"/>
<text x="340.40" y="247.30" font-size="7.7" text-anchor="start" style="stroke-width:0.12px">ρ = 0.875</text>
<circle cx="332.0" cy="253.60" r="1.3" fill="#000000"/>
<text x="340.40" y="256.30" font-size="7.7" text-anchor="start" style="stroke-width:0.12px">ρ = 1.090</text>
<circle cx="332.0" cy="262.60" r="1.3" fill="#ff0000"/>
<text x="340.40" y="265.30" font-size="7.7" text-anchor="start" style="stroke-width:0.12px">ρ = 1.437</text>
<circle cx="332.0" cy="271.60" r="1.3" fill="#00ff00"/>
<text x="340.40" y="274.30" font-size="7.7" text-anchor="start" style="stroke-width:0.12px">ρ = 1.987</text>
<circle cx="332.0" cy="280.60" r="1.3" fill="#0000ff"/>
<text x="340.40" y="283.30" font-size="7.7" text-anchor="start" style="stroke-width:0.12px">ρ = 2.417</text>
<circle cx="332.0" cy="289.60" r="1.3" fill="#bc8f8f"/>
<text x="340.40" y="292.30" font-size="7.7" text-anchor="start" style="stroke-width:0.12px">ρ = 3.390</text>
<path d="M328.00 298.60H336.30" stroke="#000" stroke-width="1.0"/>
<text x="340.40" y="301.30" font-size="7.7" text-anchor="start" style="stroke-width:0.12px">Eq. (10)</text>
<text x="300.40" y="358.80" font-size="10.4" text-anchor="end" >0.10</text>
<text x="300.40" y="333.08" font-size="10.4" text-anchor="end" >0.15</text>
<text x="300.40" y="307.37" font-size="10.4" text-anchor="end" >0.20</text>
<text x="300.40" y="281.65" font-size="10.4" text-anchor="end" >0.25</text>
<text x="300.40" y="255.93" font-size="10.4" text-anchor="end" >0.30</text>
<text x="300.40" y="230.22" font-size="10.4" text-anchor="end" >0.35</text>
<text x="300.40" y="204.50" font-size="10.4" text-anchor="end" >0.40</text>
<text x="295.36" y="370.30" font-size="10.2" text-anchor="start" >10</text>
<text x="306.26" y="364.30" font-size="7.2" text-anchor="start" >-2</text>
<text x="347.79" y="370.30" font-size="10.2" text-anchor="start" >10</text>
<text x="358.69" y="364.30" font-size="7.2" text-anchor="start" >-1</text>
<text x="401.41" y="370.30" font-size="10.2" text-anchor="start" >10</text>
<text x="412.31" y="364.30" font-size="7.2" text-anchor="start" >0</text>
<text x="453.84" y="370.30" font-size="10.2" text-anchor="start" >10</text>
<text x="464.74" y="364.30" font-size="7.2" text-anchor="start" >1</text>
<text x="506.27" y="370.30" font-size="10.2" text-anchor="start" >10</text>
<text x="517.17" y="364.30" font-size="7.2" text-anchor="start" >2</text>
<text x="408.2" y="379.2" font-size="10.9" text-anchor="middle">T/T<tspan font-size="7.6" dy="3.8">Ref</tspan><tspan dy="-3.8">(ρ)</tspan></text>
<text transform="translate(273.6,275.6) rotate(-90)" font-size="10.9" text-anchor="middle">Dη/(k<tspan font-size="7.4" dy="2.8">B</tspan><tspan dy="-2.8"> Tρ</tspan><tspan font-size="7.4" dy="-5.8">1/3</tspan><tspan dy="5.8">)</tspan></text>
<text x="497.00" y="223.80" font-size="10.6" text-anchor="middle" >(d)</text>
</svg></body></html>
